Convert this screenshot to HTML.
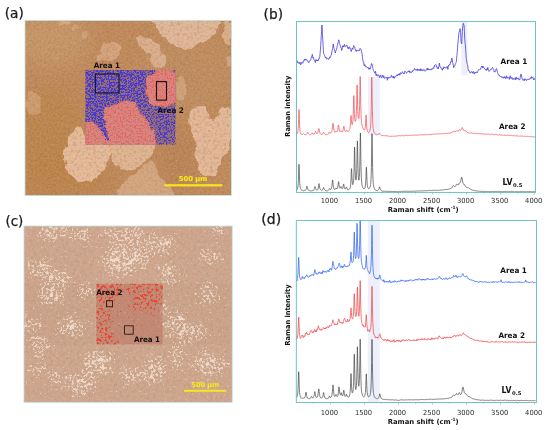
<!DOCTYPE html>
<html lang="en"><head><meta charset="utf-8"><title>Raman maps and spectra</title>
<style>html,body{margin:0;padding:0;background:#fff;}svg{display:block;font-family:'DejaVu Sans','Liberation Sans',sans-serif}.b{font-weight:bold}.lab{font-size:13.2px;fill:#1a1a1a;stroke:#1a1a1a;stroke-width:0.25px}.tk{font-size:7px;fill:#2a2a2a}.ax{font-size:6.9px;font-weight:bold;fill:#111}.ar{font-size:7.6px;font-weight:bold;fill:#111}.sb{font-size:6.8px;font-weight:bold;fill:#f5e61e;stroke:#f5e61e;stroke-width:0.15px}</style></head><body>
<svg width="550" height="430" viewBox="0 0 550 430">
<defs>
<clipPath id="ca"><rect x="25.0" y="20.5" width="206.5" height="175.1"/></clipPath>
<clipPath id="cc"><rect x="23.9" y="226.0" width="208.4" height="176.4"/></clipPath>
<clipPath id="coa"><rect x="85.3" y="70" width="90.2" height="74.7"/></clipPath>
<clipPath id="coc"><rect x="96.4" y="283.8" width="66.3" height="60.6"/></clipPath>
<filter id="rough" filterUnits="userSpaceOnUse" x="0" y="0" width="550" height="430" color-interpolation-filters="sRGB">
<feTurbulence type="fractalNoise" baseFrequency="0.12" numOctaves="3" seed="4" result="t"/>
<feDisplacementMap in="SourceGraphic" in2="t" scale="7" xChannelSelector="R" yChannelSelector="G" result="d"/>
<feGaussianBlur in="d" stdDeviation="0.7"/></filter>
<filter id="soft" filterUnits="userSpaceOnUse" x="0" y="0" width="550" height="430"><feGaussianBlur stdDeviation="9"/></filter>
<filter id="spBlue" filterUnits="userSpaceOnUse" x="0" y="0" width="550" height="430" color-interpolation-filters="sRGB">
<feGaussianBlur in="SourceAlpha" stdDeviation="0.6" result="m"/>
<feTurbulence type="fractalNoise" baseFrequency="0.62" numOctaves="3" seed="11" result="t"/>
<feColorMatrix in="t" type="matrix" values="0 0 0 0 1  0 0 0 0 1  0 0 0 0 1  1 0 0 0 0" result="n"/>
<feComposite in="n" in2="m" operator="arithmetic" k1="1" k2="0" k3="0" k4="0" result="p"/>
<feComponentTransfer in="p" result="q"><feFuncA type="linear" slope="8" intercept="-3.45"/></feComponentTransfer>
<feFlood flood-color="#4238d6" result="f"/><feComposite in="f" in2="q" operator="in" result="o"/><feGaussianBlur in="o" stdDeviation="0.42"/></filter>
<filter id="spRed" filterUnits="userSpaceOnUse" x="0" y="0" width="550" height="430" color-interpolation-filters="sRGB">
<feGaussianBlur in="SourceAlpha" stdDeviation="0.5" result="m"/>
<feTurbulence type="fractalNoise" baseFrequency="0.6" numOctaves="3" seed="23" result="t"/>
<feColorMatrix in="t" type="matrix" values="0 0 0 0 1  0 0 0 0 1  0 0 0 0 1  1 0 0 0 0" result="n"/>
<feComposite in="n" in2="m" operator="arithmetic" k1="1" k2="0" k3="0" k4="0" result="p"/>
<feComponentTransfer in="p" result="q"><feFuncA type="linear" slope="6" intercept="-2.95"/></feComponentTransfer>
<feFlood flood-color="#ee5058" result="f"/><feComposite in="f" in2="q" operator="in" result="o"/><feGaussianBlur in="o" stdDeviation="0.45"/></filter>
<filter id="spDarkB" filterUnits="userSpaceOnUse" x="0" y="0" width="550" height="430" color-interpolation-filters="sRGB">
<feGaussianBlur in="SourceAlpha" stdDeviation="1.0" result="m"/>
<feTurbulence type="fractalNoise" baseFrequency="0.3" numOctaves="3" seed="29" result="t"/>
<feColorMatrix in="t" type="matrix" values="0 0 0 0 1  0 0 0 0 1  0 0 0 0 1  1 0 0 0 0" result="n"/>
<feComposite in="n" in2="m" operator="arithmetic" k1="1" k2="0" k3="0" k4="0" result="p"/>
<feComponentTransfer in="p" result="q"><feFuncA type="linear" slope="7" intercept="-3.9"/></feComponentTransfer>
<feFlood flood-color="#b98458" result="f"/><feComposite in="f" in2="q" operator="in" result="o"/><feGaussianBlur in="o" stdDeviation="0.4"/></filter>
<filter id="spRedC" filterUnits="userSpaceOnUse" x="0" y="0" width="550" height="430" color-interpolation-filters="sRGB">
<feGaussianBlur in="SourceAlpha" stdDeviation="1.5" result="m"/><feTurbulence type="fractalNoise" baseFrequency="0.07" numOctaves="2" seed="131" result="wt"/><feDisplacementMap in="m" in2="wt" scale="8" xChannelSelector="R" yChannelSelector="G" result="mw"/>
<feTurbulence type="fractalNoise" baseFrequency="0.36" numOctaves="3" seed="31" result="t"/>
<feColorMatrix in="t" type="matrix" values="0 0 0 0 1  0 0 0 0 1  0 0 0 0 1  1 0 0 0 0" result="n"/>
<feComposite in="n" in2="mw" operator="arithmetic" k1="1" k2="0" k3="0" k4="0" result="p"/>
<feComponentTransfer in="p" result="q"><feFuncA type="linear" slope="9" intercept="-4.7"/></feComponentTransfer>
<feFlood flood-color="#ee4232" result="f"/><feComposite in="f" in2="q" operator="in" result="o"/><feGaussianBlur in="o" stdDeviation="0.5"/></filter>
<filter id="spLight" filterUnits="userSpaceOnUse" x="0" y="0" width="550" height="430" color-interpolation-filters="sRGB">
<feGaussianBlur in="SourceAlpha" stdDeviation="2.2" result="m"/><feTurbulence type="fractalNoise" baseFrequency="0.07" numOctaves="2" seed="105" result="wt"/><feDisplacementMap in="m" in2="wt" scale="16" xChannelSelector="R" yChannelSelector="G" result="mw"/>
<feTurbulence type="fractalNoise" baseFrequency="0.43" numOctaves="3" seed="5" result="t"/>
<feColorMatrix in="t" type="matrix" values="0 0 0 0 1  0 0 0 0 1  0 0 0 0 1  1 0 0 0 0" result="n"/>
<feComposite in="n" in2="mw" operator="arithmetic" k1="1" k2="0" k3="0" k4="0" result="p"/>
<feComponentTransfer in="p" result="q"><feFuncA type="linear" slope="8" intercept="-4.0"/></feComponentTransfer>
<feFlood flood-color="#f2ddce" result="f"/><feComposite in="f" in2="q" operator="in" result="o"/><feGaussianBlur in="o" stdDeviation="0.5"/></filter>
<filter id="spLight2" filterUnits="userSpaceOnUse" x="0" y="0" width="550" height="430" color-interpolation-filters="sRGB">
<feGaussianBlur in="SourceAlpha" stdDeviation="2.5" result="m"/><feTurbulence type="fractalNoise" baseFrequency="0.07" numOctaves="2" seed="108" result="wt"/><feDisplacementMap in="m" in2="wt" scale="16" xChannelSelector="R" yChannelSelector="G" result="mw"/>
<feTurbulence type="fractalNoise" baseFrequency="0.24" numOctaves="3" seed="8" result="t"/>
<feColorMatrix in="t" type="matrix" values="0 0 0 0 1  0 0 0 0 1  0 0 0 0 1  1 0 0 0 0" result="n"/>
<feComposite in="n" in2="mw" operator="arithmetic" k1="1" k2="0" k3="0" k4="0" result="p"/>
<feComponentTransfer in="p" result="q"><feFuncA type="linear" slope="8" intercept="-4.05"/></feComponentTransfer>
<feFlood flood-color="#f3e0d2" result="f"/><feComposite in="f" in2="q" operator="in" result="o"/><feGaussianBlur in="o" stdDeviation="0.7"/></filter>
<filter id="spDarkC" filterUnits="userSpaceOnUse" x="0" y="0" width="550" height="430" color-interpolation-filters="sRGB">
<feGaussianBlur in="SourceAlpha" stdDeviation="2.0" result="m"/>
<feTurbulence type="fractalNoise" baseFrequency="0.3" numOctaves="2" seed="41" result="t"/>
<feColorMatrix in="t" type="matrix" values="0 0 0 0 1  0 0 0 0 1  0 0 0 0 1  1 0 0 0 0" result="n"/>
<feComposite in="n" in2="m" operator="arithmetic" k1="1" k2="0" k3="0" k4="0" result="p"/>
<feComponentTransfer in="p" result="q"><feFuncA type="linear" slope="6" intercept="-3.1"/></feComponentTransfer>
<feFlood flood-color="#a87c64" result="f"/><feComposite in="f" in2="q" operator="in" result="o"/><feGaussianBlur in="o" stdDeviation="0.5"/></filter>
<filter id="spLightA" filterUnits="userSpaceOnUse" x="0" y="0" width="550" height="430" color-interpolation-filters="sRGB">
<feGaussianBlur in="SourceAlpha" stdDeviation="1.0" result="m"/>
<feTurbulence type="fractalNoise" baseFrequency="0.5" numOctaves="2" seed="9" result="t"/>
<feColorMatrix in="t" type="matrix" values="0 0 0 0 1  0 0 0 0 1  0 0 0 0 1  1 0 0 0 0" result="n"/>
<feComposite in="n" in2="m" operator="arithmetic" k1="1" k2="0" k3="0" k4="0" result="p"/>
<feComponentTransfer in="p" result="q"><feFuncA type="linear" slope="6" intercept="-2.7"/></feComponentTransfer>
<feFlood flood-color="#ecd0b4" result="f"/><feComposite in="f" in2="q" operator="in" result="o"/><feGaussianBlur in="o" stdDeviation="0.35"/></filter>
<filter id="spDarkA" filterUnits="userSpaceOnUse" x="0" y="0" width="550" height="430" color-interpolation-filters="sRGB">
<feGaussianBlur in="SourceAlpha" stdDeviation="2.0" result="m"/>
<feTurbulence type="fractalNoise" baseFrequency="0.35" numOctaves="2" seed="17" result="t"/>
<feColorMatrix in="t" type="matrix" values="0 0 0 0 1  0 0 0 0 1  0 0 0 0 1  1 0 0 0 0" result="n"/>
<feComposite in="n" in2="m" operator="arithmetic" k1="1" k2="0" k3="0" k4="0" result="p"/>
<feComponentTransfer in="p" result="q"><feFuncA type="linear" slope="6" intercept="-3.1"/></feComponentTransfer>
<feFlood flood-color="#b07c4c" result="f"/><feComposite in="f" in2="q" operator="in" result="o"/><feGaussianBlur in="o" stdDeviation="0.35"/></filter>
<filter id="grain" filterUnits="userSpaceOnUse" x="0" y="0" width="550" height="430" color-interpolation-filters="sRGB">
<feTurbulence type="fractalNoise" baseFrequency="0.45" numOctaves="2" seed="2" result="t"/>
<feColorMatrix in="t" type="matrix" values="0 0 0 0 0  0 0 0 0 0  0 0 0 0 0  0 2.2 0 0 -0.95" result="dk"/>
<feColorMatrix in="t" type="matrix" values="0 0 0 0 1  0 0 0 0 1  0 0 0 0 1  0 0 -2.2 0 0.95" result="lt"/>
<feMerge><feMergeNode in="dk"/><feMergeNode in="lt"/></feMerge></filter>
</defs>
<rect x="0" y="0" width="550" height="430" fill="#fff"/>
<g clip-path="url(#ca)">
<rect x="25.0" y="20.5" width="206.5" height="175.1" fill="#c28b5c"/>
<g filter="url(#soft)">
<ellipse cx="50" cy="135" rx="40" ry="45" fill="#b9843f" opacity="0.5"/><ellipse cx="60" cy="180" rx="50" ry="25" fill="#bd8248" opacity="0.6"/>
<ellipse cx="50" cy="40" rx="40" ry="26" fill="#c89a6c" opacity="0.8"/>
<ellipse cx="185" cy="75" rx="50" ry="40" fill="#c08e62" opacity="0.7"/>
<ellipse cx="178" cy="160" rx="18" ry="36" fill="#b98454" opacity="0.8"/>
</g>
<rect filter="url(#spDarkA)" x="25.0" y="20.5" width="206.5" height="175.1" opacity="0.16"/>
<rect filter="url(#spLightA)" x="25.0" y="20.5" width="206.5" height="175.1" opacity="0.10"/>
<g filter="url(#rough)">
<path d="M105.8,43.5 C108.0,42.1 111.6,41.6 114.0,42.5 C116.4,43.4 119.2,46.4 120.1,48.6 C120.9,50.8 120.5,53.9 119.1,55.8 C117.7,57.7 114.6,59.0 111.9,59.9 C109.2,60.8 105.1,61.2 102.7,60.9 C100.3,60.5 97.9,59.5 97.6,57.8 C97.3,56.1 99.3,53.1 100.7,50.7 C102.1,48.3 103.6,44.9 105.8,43.5Z" fill="#dcae8a" opacity="0.75"/>
<path d="M155.8,17.0 C146.6,19.1 157.2,26.1 158.6,29.5 C160.0,32.9 162.2,34.7 164.4,37.1 C166.6,39.5 169.2,41.9 172.0,43.8 C174.8,45.7 178.6,47.5 181.5,48.5 C184.4,49.5 187.0,50.1 189.2,49.5 C191.4,48.9 192.3,46.1 194.9,44.7 C197.5,43.3 201.6,42.2 204.5,40.9 C207.4,39.6 210.2,39.0 212.1,37.1 C214.0,35.2 215.6,32.9 215.9,29.5 C216.2,26.1 224.0,19.1 214.0,17.0 C204.0,14.9 165.0,14.9 155.8,17.0Z" fill="#e3ba9c" opacity="0.97"/>
<path d="M136.7,39.0 C137.3,37.9 139.1,36.9 141.5,37.1 C143.9,37.3 148.2,38.6 151.0,40.0 C153.8,41.4 156.5,43.5 158.6,45.7 C160.7,47.9 162.0,50.8 163.4,53.3 C164.8,55.8 167.0,58.9 167.2,61.0 C167.4,63.1 166.2,64.5 164.4,65.7 C162.7,66.9 158.8,68.3 156.7,68.0 C154.6,67.7 153.3,65.8 152.0,63.8 C150.7,61.8 150.5,58.6 149.1,56.2 C147.7,53.8 145.3,51.6 143.4,49.5 C141.5,47.4 138.7,45.5 137.6,43.8 C136.5,42.0 136.0,40.1 136.7,39.0Z" fill="#deb392" opacity="0.92"/>
<path d="M77.1,127.1 C78.4,127.1 81.1,127.9 82.4,129.7 C83.7,131.5 84.4,135.2 85.1,137.7 C85.8,140.2 82.7,143.5 86.5,144.7 C90.3,145.9 104.1,142.9 108.0,144.7 C111.9,146.5 110.1,151.8 109.8,155.4 C109.5,159.0 108.1,162.8 106.3,166.0 C104.5,169.2 101.8,172.5 99.2,174.8 C96.6,177.2 93.4,179.1 90.4,180.1 C87.5,181.1 84.5,181.6 81.5,181.0 C78.5,180.4 75.2,178.8 72.7,176.6 C70.2,174.4 68.0,170.9 66.5,167.7 C65.0,164.4 63.9,160.6 63.8,157.1 C63.6,153.6 64.4,150.0 65.6,146.5 C66.8,143.0 69.4,138.7 70.9,135.9 C72.4,133.1 73.4,131.2 74.4,129.7 C75.4,128.2 75.8,127.1 77.1,127.1Z" fill="#e6bc9a" opacity="1"/>
<path d="M112.5,144.5 C118.7,141.8 145.2,143.2 151.6,144.5 C158.0,145.8 151.6,149.8 151.2,152.0 C150.8,154.2 151.5,155.4 149.0,158.0 C146.5,160.6 140.3,165.2 136.3,167.3 C132.3,169.4 128.0,170.6 125.0,170.8 C122.0,171.0 120.4,170.3 118.6,168.6 C116.8,166.9 115.2,164.7 114.2,160.7 C113.2,156.7 106.3,147.2 112.5,144.5Z" fill="#e3b896" opacity="0.95"/>
<path d="M190.2,112.0 C189.2,114.5 189.1,119.0 189.4,122.5 C189.7,126.0 190.8,129.4 192.0,132.9 C193.2,136.4 195.9,139.6 196.3,143.4 C196.7,147.2 194.4,151.8 194.6,155.6 C194.8,159.4 195.6,162.9 197.2,166.1 C198.8,169.3 201.1,173.1 204.2,174.8 C207.2,176.6 213.2,178.1 215.5,176.6 C217.8,175.1 217.0,169.3 218.2,166.1 C219.4,162.9 220.9,160.0 222.5,157.4 C224.1,154.8 226.4,153.3 227.8,150.4 C229.2,147.5 230.3,144.6 231.0,139.9 C231.7,135.2 232.0,127.7 232.0,122.5 C232.0,117.3 233.0,110.5 231.0,108.5 C229.0,106.5 222.6,108.2 219.9,110.2 C217.2,112.2 216.7,120.1 214.7,120.7 C212.7,121.3 209.7,116.0 207.7,113.7 C205.7,111.4 204.5,107.7 202.5,106.7 C200.5,105.7 197.6,106.7 195.5,107.6 C193.4,108.5 191.2,109.5 190.2,112.0Z" fill="#e5b999" opacity="1"/>
<ellipse cx="227.5" cy="33" rx="4.5" ry="12" fill="#e2b694" opacity="0.8"/>
<ellipse cx="228.5" cy="61" rx="3" ry="7" fill="#e2b694" opacity="0.6"/>
<ellipse cx="181.5" cy="89" rx="5.5" ry="12" fill="#e2b694" opacity="0.5"/>
<ellipse cx="33" cy="103" rx="8" ry="11" fill="#e2b694" opacity="0.45"/>
<path d="M126.0,181.0 C130.9,177.1 145.1,163.4 150.6,162.5 C156.1,161.6 155.1,169.6 158.8,175.5 C162.5,181.4 179.5,194.2 173.0,198.0 C166.5,201.8 128.7,200.0 120.0,198.0 C111.3,196.0 120.0,188.8 121.0,186.0 C122.0,183.2 121.1,184.9 126.0,181.0Z" fill="#e2b694" opacity="0.62"/>
<ellipse cx="63" cy="22.5" rx="6" ry="2.8" fill="#e2b694" opacity="0.55"/>
<ellipse cx="75" cy="27.5" rx="3" ry="3" fill="#e2b694" opacity="0.45"/>
<ellipse cx="85" cy="35" rx="4.5" ry="3" fill="#e2b694" opacity="0.45"/>
<ellipse cx="56" cy="58" rx="3" ry="2" fill="#e2b694" opacity="0.3"/>
</g>
<g filter="url(#spDarkB)" opacity="0.28">
<path d="M105.8,43.5 C108.0,42.1 111.6,41.6 114.0,42.5 C116.4,43.4 119.2,46.4 120.1,48.6 C120.9,50.8 120.5,53.9 119.1,55.8 C117.7,57.7 114.6,59.0 111.9,59.9 C109.2,60.8 105.1,61.2 102.7,60.9 C100.3,60.5 97.9,59.5 97.6,57.8 C97.3,56.1 99.3,53.1 100.7,50.7 C102.1,48.3 103.6,44.9 105.8,43.5Z"/>
<path d="M155.8,17.0 C146.6,19.1 157.2,26.1 158.6,29.5 C160.0,32.9 162.2,34.7 164.4,37.1 C166.6,39.5 169.2,41.9 172.0,43.8 C174.8,45.7 178.6,47.5 181.5,48.5 C184.4,49.5 187.0,50.1 189.2,49.5 C191.4,48.9 192.3,46.1 194.9,44.7 C197.5,43.3 201.6,42.2 204.5,40.9 C207.4,39.6 210.2,39.0 212.1,37.1 C214.0,35.2 215.6,32.9 215.9,29.5 C216.2,26.1 224.0,19.1 214.0,17.0 C204.0,14.9 165.0,14.9 155.8,17.0Z"/>
<path d="M136.7,39.0 C137.3,37.9 139.1,36.9 141.5,37.1 C143.9,37.3 148.2,38.6 151.0,40.0 C153.8,41.4 156.5,43.5 158.6,45.7 C160.7,47.9 162.0,50.8 163.4,53.3 C164.8,55.8 167.0,58.9 167.2,61.0 C167.4,63.1 166.2,64.5 164.4,65.7 C162.7,66.9 158.8,68.3 156.7,68.0 C154.6,67.7 153.3,65.8 152.0,63.8 C150.7,61.8 150.5,58.6 149.1,56.2 C147.7,53.8 145.3,51.6 143.4,49.5 C141.5,47.4 138.7,45.5 137.6,43.8 C136.5,42.0 136.0,40.1 136.7,39.0Z"/>
<path d="M77.1,127.1 C78.4,127.1 81.1,127.9 82.4,129.7 C83.7,131.5 84.4,135.2 85.1,137.7 C85.8,140.2 82.7,143.5 86.5,144.7 C90.3,145.9 104.1,142.9 108.0,144.7 C111.9,146.5 110.1,151.8 109.8,155.4 C109.5,159.0 108.1,162.8 106.3,166.0 C104.5,169.2 101.8,172.5 99.2,174.8 C96.6,177.2 93.4,179.1 90.4,180.1 C87.5,181.1 84.5,181.6 81.5,181.0 C78.5,180.4 75.2,178.8 72.7,176.6 C70.2,174.4 68.0,170.9 66.5,167.7 C65.0,164.4 63.9,160.6 63.8,157.1 C63.6,153.6 64.4,150.0 65.6,146.5 C66.8,143.0 69.4,138.7 70.9,135.9 C72.4,133.1 73.4,131.2 74.4,129.7 C75.4,128.2 75.8,127.1 77.1,127.1Z"/>
<path d="M112.5,144.5 C118.7,141.8 145.2,143.2 151.6,144.5 C158.0,145.8 151.6,149.8 151.2,152.0 C150.8,154.2 151.5,155.4 149.0,158.0 C146.5,160.6 140.3,165.2 136.3,167.3 C132.3,169.4 128.0,170.6 125.0,170.8 C122.0,171.0 120.4,170.3 118.6,168.6 C116.8,166.9 115.2,164.7 114.2,160.7 C113.2,156.7 106.3,147.2 112.5,144.5Z"/>
<path d="M190.2,112.0 C189.2,114.5 189.1,119.0 189.4,122.5 C189.7,126.0 190.8,129.4 192.0,132.9 C193.2,136.4 195.9,139.6 196.3,143.4 C196.7,147.2 194.4,151.8 194.6,155.6 C194.8,159.4 195.6,162.9 197.2,166.1 C198.8,169.3 201.1,173.1 204.2,174.8 C207.2,176.6 213.2,178.1 215.5,176.6 C217.8,175.1 217.0,169.3 218.2,166.1 C219.4,162.9 220.9,160.0 222.5,157.4 C224.1,154.8 226.4,153.3 227.8,150.4 C229.2,147.5 230.3,144.6 231.0,139.9 C231.7,135.2 232.0,127.7 232.0,122.5 C232.0,117.3 233.0,110.5 231.0,108.5 C229.0,106.5 222.6,108.2 219.9,110.2 C217.2,112.2 216.7,120.1 214.7,120.7 C212.7,121.3 209.7,116.0 207.7,113.7 C205.7,111.4 204.5,107.7 202.5,106.7 C200.5,105.7 197.6,106.7 195.5,107.6 C193.4,108.5 191.2,109.5 190.2,112.0Z"/>
</g>
<rect filter="url(#grain)" x="25.0" y="20.5" width="206.5" height="175.1" opacity="0.09"/>
<g clip-path="url(#coa)">
<rect x="85.3" y="70" width="90.2" height="74.7" fill="#8c6478" opacity="0.7"/>
<g filter="url(#spBlue)"><rect x="82" y="67" width="97" height="81" fill-opacity="0.9"/><rect x="82" y="67" width="64" height="40"/><rect x="82" y="100" width="24" height="26"/><ellipse cx="163" cy="128" rx="8" ry="10" fill-opacity="0.6"/></g>
<g filter="url(#rough)">
<circle cx="164" cy="88" r="19" fill="#d8877e"/>
<path d="M105.7,107.5 C107.5,105.2 111.3,103.5 115.6,102.5 C119.9,101.5 127.5,100.3 131.4,101.6 C135.4,102.9 136.7,107.0 139.3,110.5 C141.9,114.0 145.1,118.7 147.2,122.3 C149.3,125.9 151.0,127.9 152.1,132.2 C153.2,136.5 160.7,145.4 153.6,148.0 C146.5,150.6 117.2,150.6 109.6,148.0 C101.9,145.4 108.5,137.5 107.7,132.2 C106.9,126.9 105.0,120.5 104.7,116.4 C104.4,112.3 103.9,109.8 105.7,107.5Z" fill="#d38980"/>
<path d="M82.0,124.6 C84.0,120.3 89.8,120.0 93.8,122.3 C97.8,124.5 103.2,133.8 105.7,138.1 C108.2,142.4 112.5,146.3 108.5,148.0 C104.5,149.7 86.4,151.9 82.0,148.0 C77.6,144.1 80.0,128.9 82.0,124.6Z" fill="#d28a7e"/>
</g>
<g filter="url(#spRed)" opacity="0.7">
<circle cx="164" cy="88" r="19.5"/>
<path d="M104.7,106.5 C106.7,104.0 111.0,102.5 115.6,101.5 C120.2,100.5 128.3,99.3 132.4,100.6 C136.5,101.9 137.7,106.0 140.3,109.5 C142.9,113.0 146.1,117.7 148.2,121.3 C150.3,124.9 152.0,126.7 153.1,131.2 C154.2,135.6 162.0,145.2 154.6,148.0 C147.2,150.8 116.6,150.6 108.6,148.0 C100.6,145.4 107.5,137.5 106.7,132.2 C105.9,126.9 104.0,120.7 103.7,116.4 C103.4,112.1 102.7,109.0 104.7,106.5Z"/>
<path d="M82.0,123.6 C84.0,119.1 90.2,119.0 94.3,121.3 C98.4,123.5 104.2,132.7 106.7,137.1 C109.2,141.5 113.6,146.2 109.5,148.0 C105.4,149.8 86.6,152.1 82.0,148.0 C77.4,143.9 80.0,128.0 82.0,123.6Z"/>
</g>
<g filter="url(#spBlue)"><path d="M91,110 L100,108 L110,141 L106,142 Z"/></g>
</g>
<rect x="95.4" y="74" width="23.6" height="18.9" fill="none" stroke="#15152a" stroke-width="1.1"/>
<rect x="156.5" y="81.6" width="10" height="18.5" fill="none" stroke="#1a1010" stroke-width="1.1"/>
<text class="ar" x="93.7" y="67.7" textLength="26.3" lengthAdjust="spacingAndGlyphs">Area 1</text>
<text class="ar" x="157.4" y="112.5" textLength="26.5" lengthAdjust="spacingAndGlyphs">Area 2</text>
<rect x="164.4" y="184.2" width="57.9" height="2.2" fill="#f5e61e"/>
<text class="sb" x="178.8" y="181.2" textLength="28.6" lengthAdjust="spacingAndGlyphs">500 µm</text>
</g>
<rect x="25.0" y="20.5" width="206.5" height="175.1" fill="none" stroke="#bfe4e2" stroke-width="0.8"/>
<g clip-path="url(#cc)">
<rect x="23.9" y="226.0" width="208.4" height="176.4" fill="#cfa88f"/>
<rect x="94.5" y="226" width="69" height="57.5" fill="#d3ad95" opacity="0.35"/>
<rect x="163.5" y="283.5" width="70" height="61" fill="#c69e85" opacity="0.3"/>
<rect x="24" y="283.5" width="70.5" height="61" fill="#c8a087" opacity="0.3"/>
<rect x="94.5" y="344.5" width="69" height="60" fill="#d1aa92" opacity="0.3"/>
<rect filter="url(#spDarkC)" x="23.9" y="226.0" width="208.4" height="176.4" opacity="0.12"/>
<g filter="url(#spLight)" opacity="0.85">
<rect x="18.9" y="221.0" width="218.4" height="186.4" fill-opacity="0.71"/>
<ellipse cx="57.7" cy="232.2" rx="20.9" ry="8.6" fill-opacity="0.9"/>
<ellipse cx="84.3" cy="234.2" rx="10.7" ry="8.6" fill-opacity="0.9"/>
<ellipse cx="119.9" cy="235.2" rx="17.6" ry="9.6" fill-opacity="0.9"/>
<ellipse cx="119.9" cy="260.8" rx="17.6" ry="18.8" fill-opacity="0.9"/>
<ellipse cx="41.4" cy="270.0" rx="12.7" ry="11.7" fill-opacity="0.9"/>
<ellipse cx="56.7" cy="277.1" rx="11.7" ry="10.7" fill-opacity="0.9"/>
<ellipse cx="52.6" cy="294.5" rx="15.8" ry="11.7" fill-opacity="0.9"/>
<ellipse cx="86.4" cy="291.4" rx="8.6" ry="8.6" fill-opacity="0.9"/>
<ellipse cx="132.2" cy="235.2" rx="11.7" ry="9.6" fill-opacity="0.9"/>
<ellipse cx="138.3" cy="255.7" rx="13.7" ry="13.7" fill-opacity="0.9"/>
<ellipse cx="162.8" cy="244.4" rx="15.8" ry="10.7" fill-opacity="0.9"/>
<ellipse cx="169.0" cy="274.1" rx="11.7" ry="11.7" fill-opacity="0.9"/>
<ellipse cx="209.9" cy="255.7" rx="13.7" ry="9.6" fill-opacity="0.9"/>
<ellipse cx="217.0" cy="233.2" rx="10.7" ry="7.6" fill-opacity="0.9"/>
<ellipse cx="207.8" cy="293.5" rx="9.6" ry="12.7" fill-opacity="0.9"/>
<ellipse cx="165.4" cy="307.8" rx="6.1" ry="6.6" fill-opacity="0.9"/>
<ellipse cx="31.3" cy="323.5" rx="8.7" ry="9.8" fill-opacity="0.9"/>
<ellipse cx="71.1" cy="325.5" rx="15.0" ry="11.9" fill-opacity="0.9"/>
<ellipse cx="38.6" cy="345.4" rx="9.8" ry="12.9" fill-opacity="0.9"/>
<ellipse cx="98.2" cy="363.2" rx="17.1" ry="14.0" fill-opacity="0.9"/>
<ellipse cx="55.4" cy="378.9" rx="9.8" ry="8.7" fill-opacity="0.9"/>
<ellipse cx="81.5" cy="384.1" rx="15.0" ry="14.0" fill-opacity="0.9"/>
<ellipse cx="36.5" cy="370.5" rx="11.9" ry="8.7" fill-opacity="0.9"/>
<ellipse cx="129.2" cy="375.7" rx="8.3" ry="9.8" fill-opacity="0.9"/>
<ellipse cx="180.5" cy="328.7" rx="18.1" ry="15.0" fill-opacity="0.9"/>
<ellipse cx="202.4" cy="330.8" rx="8.7" ry="8.7" fill-opacity="0.9"/>
<ellipse cx="154.3" cy="370.5" rx="12.9" ry="15.0" fill-opacity="0.9"/>
<ellipse cx="133.4" cy="375.7" rx="10.8" ry="9.8" fill-opacity="0.9"/>
<ellipse cx="209.7" cy="364.2" rx="18.1" ry="12.9" fill-opacity="0.9"/>
<ellipse cx="177.3" cy="358.0" rx="8.7" ry="12.9" fill-opacity="0.9"/>
</g>
<g filter="url(#spLight2)" opacity="0.9">
<rect x="18.9" y="221.0" width="218.4" height="186.4" fill-opacity="0.5"/>
<ellipse cx="57.7" cy="232.2" rx="15.9" ry="3.6" fill-opacity="0.95"/>
<ellipse cx="84.3" cy="234.2" rx="5.7" ry="3.6" fill-opacity="0.95"/>
<ellipse cx="119.9" cy="235.2" rx="12.6" ry="4.6" fill-opacity="0.95"/>
<ellipse cx="119.9" cy="260.8" rx="12.6" ry="13.8" fill-opacity="0.95"/>
<ellipse cx="41.4" cy="270.0" rx="7.7" ry="6.7" fill-opacity="0.95"/>
<ellipse cx="56.7" cy="277.1" rx="6.7" ry="5.7" fill-opacity="0.95"/>
<ellipse cx="52.6" cy="294.5" rx="10.8" ry="6.7" fill-opacity="0.95"/>
<ellipse cx="86.4" cy="291.4" rx="3.6" ry="3.6" fill-opacity="0.95"/>
<ellipse cx="132.2" cy="235.2" rx="6.7" ry="4.6" fill-opacity="0.95"/>
<ellipse cx="138.3" cy="255.7" rx="8.7" ry="8.7" fill-opacity="0.95"/>
<ellipse cx="162.8" cy="244.4" rx="10.8" ry="5.7" fill-opacity="0.95"/>
<ellipse cx="169.0" cy="274.1" rx="6.7" ry="6.7" fill-opacity="0.95"/>
<ellipse cx="209.9" cy="255.7" rx="8.7" ry="4.6" fill-opacity="0.95"/>
<ellipse cx="217.0" cy="233.2" rx="5.7" ry="2.6" fill-opacity="0.95"/>
<ellipse cx="207.8" cy="293.5" rx="4.6" ry="7.7" fill-opacity="0.95"/>
<ellipse cx="165.4" cy="307.8" rx="2.0" ry="2.0" fill-opacity="0.95"/>
<ellipse cx="31.3" cy="323.5" rx="3.7" ry="4.8" fill-opacity="0.95"/>
<ellipse cx="71.1" cy="325.5" rx="10.0" ry="6.9" fill-opacity="0.95"/>
<ellipse cx="38.6" cy="345.4" rx="4.8" ry="7.9" fill-opacity="0.95"/>
<ellipse cx="98.2" cy="363.2" rx="12.1" ry="9.0" fill-opacity="0.95"/>
<ellipse cx="55.4" cy="378.9" rx="4.8" ry="3.7" fill-opacity="0.95"/>
<ellipse cx="81.5" cy="384.1" rx="10.0" ry="9.0" fill-opacity="0.95"/>
<ellipse cx="36.5" cy="370.5" rx="6.9" ry="3.7" fill-opacity="0.95"/>
<ellipse cx="129.2" cy="375.7" rx="3.3" ry="4.8" fill-opacity="0.95"/>
<ellipse cx="180.5" cy="328.7" rx="13.1" ry="10.0" fill-opacity="0.95"/>
<ellipse cx="202.4" cy="330.8" rx="3.7" ry="3.7" fill-opacity="0.95"/>
<ellipse cx="154.3" cy="370.5" rx="7.9" ry="10.0" fill-opacity="0.95"/>
<ellipse cx="133.4" cy="375.7" rx="5.8" ry="4.8" fill-opacity="0.95"/>
<ellipse cx="209.7" cy="364.2" rx="13.1" ry="7.9" fill-opacity="0.95"/>
<ellipse cx="177.3" cy="358.0" rx="3.7" ry="7.9" fill-opacity="0.95"/>
</g>
<rect filter="url(#grain)" x="23.9" y="226.0" width="208.4" height="176.4" opacity="0.05"/>
<g clip-path="url(#coc)">
<rect x="96" y="283.8" width="67.6" height="60.8" fill="#b05848" opacity="0.36"/>
<g filter="url(#spRedC)">
<rect x="92" y="280" width="19" height="68" fill-opacity="0.93"/>
<rect x="92" y="280" width="24" height="20" fill-opacity="1"/>
<rect x="92" y="280" width="75" height="12" fill-opacity="0.9"/>
<ellipse cx="147" cy="298" rx="17" ry="14" fill-opacity="0.88"/>
<ellipse cx="108" cy="340" rx="12" ry="7" fill-opacity="0.95"/>
<rect x="92" y="280" width="75" height="68" fill-opacity="0.74"/>
</g>
</g>
<rect x="106.4" y="300.7" width="6" height="6.1" fill="none" stroke="#111" stroke-width="0.8"/>
<rect x="124.6" y="325.8" width="8.6" height="8.4" fill="none" stroke="#111" stroke-width="0.8"/>
<text class="ar" x="96.2" y="295.3" textLength="26.4" lengthAdjust="spacingAndGlyphs" style="font-size:7.6px">Area 2</text>
<text class="ar" x="133.9" y="342" textLength="26.2" lengthAdjust="spacingAndGlyphs" style="font-size:7.6px">Area 1</text>
<rect x="184.1" y="389.8" width="42" height="2.0" fill="#f5e61e"/>
<text class="sb" x="191.3" y="387.2" textLength="27.8" lengthAdjust="spacingAndGlyphs">500 µm</text>
</g>
<rect x="23.9" y="226.0" width="208.4" height="176.4" fill="none" stroke="#bfe4e2" stroke-width="0.8"/>
<rect x="461.5" y="21.0" width="5.9" height="54.3" fill="#edf0fa"/>
<rect x="368.0" y="77.0" width="11.8" height="58.2" fill="#edf0fa"/>
<path d="M296.40,61.50 296.70,61.43 297.00,60.64 297.30,61.00 297.60,62.72 297.90,62.61 298.20,62.21 298.50,62.53 298.80,63.42 299.10,63.97 299.40,63.84 299.70,63.11 300.00,62.08 300.30,63.20 300.60,64.81 300.90,64.51 301.20,64.16 301.50,63.10 301.80,62.22 302.10,62.70 302.40,62.59 302.70,63.30 303.00,62.59 303.30,60.84 303.60,60.94 303.90,60.40 304.20,60.63 304.50,59.43 304.80,59.10 305.10,60.27 305.40,59.29 305.70,59.08 306.00,59.75 306.30,59.74 306.60,59.50 306.90,60.32 307.20,60.89 307.50,60.94 307.80,60.71 308.10,61.85 308.40,62.45 308.70,62.30 309.00,62.72 309.30,61.59 309.60,61.01 309.90,60.97 310.20,60.19 310.50,60.22 310.80,59.75 311.10,58.65 311.40,56.86 311.70,56.24 312.00,55.71 312.30,54.32 312.60,55.86 312.90,58.15 313.20,58.04 313.50,57.32 313.80,58.56 314.10,59.70 314.40,60.32 314.70,60.42 315.00,61.02 315.30,62.57 315.60,60.99 315.90,59.56 316.20,59.88 316.50,60.64 316.80,60.01 317.10,59.80 317.40,60.89 317.70,60.41 318.00,61.04 318.30,60.47 318.60,58.73 318.90,58.52 319.20,58.84 319.50,58.21 319.80,56.45 320.10,53.32 320.40,49.92 320.70,45.68 321.00,40.76 321.30,35.60 321.60,31.60 321.90,25.05 322.20,29.00 322.50,34.87 322.80,39.89 323.10,45.36 323.40,50.45 323.70,53.42 324.00,54.09 324.30,54.59 324.60,55.60 324.90,56.50 325.20,56.57 325.50,57.70 325.80,57.66 326.10,57.19 326.40,58.66 326.70,59.22 327.00,59.04 327.30,58.48 327.60,58.40 327.90,58.37 328.20,58.63 328.50,59.39 328.80,58.59 329.10,58.74 329.40,58.39 329.70,56.87 330.00,57.28 330.30,57.44 330.60,56.61 330.90,55.86 331.20,55.19 331.50,53.97 331.80,51.94 332.10,50.17 332.40,49.88 332.70,48.10 333.00,45.18 333.30,44.03 333.60,46.18 333.90,48.24 334.20,48.63 334.50,49.63 334.80,50.99 335.10,51.95 335.40,53.01 335.70,51.35 336.00,50.35 336.30,50.08 336.60,49.35 336.90,48.06 337.20,46.31 337.50,45.11 337.80,43.63 338.10,42.58 338.40,41.50 338.70,39.92 339.00,40.17 339.30,42.15 339.60,43.66 339.90,44.82 340.20,45.29 340.50,46.34 340.80,47.85 341.10,48.04 341.40,48.60 341.70,50.39 342.00,50.20 342.30,46.88 342.60,46.05 342.90,46.98 343.20,45.69 343.50,46.32 343.80,47.10 344.10,45.68 344.40,44.34 344.70,44.75 345.00,45.95 345.30,46.54 345.60,46.01 345.90,45.64 346.20,45.90 346.50,45.76 346.80,45.19 347.10,45.90 347.40,47.22 347.70,47.93 348.00,48.49 348.30,47.42 348.60,47.68 348.90,48.82 349.20,47.44 349.50,46.85 349.80,47.58 350.10,47.82 350.40,49.33 350.70,50.34 351.00,51.35 351.30,51.55 351.60,49.87 351.90,49.31 352.20,47.97 352.50,48.35 352.80,49.32 353.10,47.86 353.40,47.10 353.70,45.66 354.00,45.78 354.30,46.58 354.60,47.12 354.90,48.52 355.20,48.83 355.50,50.29 355.80,51.08 356.10,51.33 356.40,51.56 356.70,50.00 357.00,50.21 357.30,50.65 357.60,50.14 357.90,50.28 358.20,50.32 358.50,50.86 358.80,50.72 359.10,50.02 359.40,50.47 359.70,49.23 360.00,48.43 360.30,48.96 360.60,49.00 360.90,49.15 361.20,49.99 361.50,51.38 361.80,53.00 362.10,54.02 362.40,56.50 362.70,59.58 363.00,61.00 363.30,61.79 363.60,61.81 363.90,64.04 364.20,66.06 364.50,65.77 364.80,64.56 365.10,65.31 365.40,66.23 365.70,66.80 366.00,66.71 366.30,66.37 366.60,66.92 366.90,67.40 367.20,67.41 367.50,67.75 367.80,68.14 368.10,67.39 368.40,68.29 368.70,69.28 369.00,68.10 369.30,68.03 369.60,68.85 369.90,68.54 370.20,69.22 370.50,68.30 370.80,66.47 371.10,65.20 371.40,63.72 371.70,63.70 372.00,63.80 372.30,65.15 372.60,66.73 372.90,68.40 373.20,69.82 373.50,70.54 373.80,71.48 374.10,71.80 374.40,72.06 374.70,73.08 375.00,72.93 375.30,71.14 375.60,71.38 375.90,74.98 376.20,75.58 376.50,74.02 376.80,74.43 377.10,75.71 377.40,76.13 377.70,75.50 378.00,74.71 378.30,74.79 378.60,74.97 378.90,75.47 379.20,77.15 379.50,77.69 379.80,76.62 380.10,75.59 380.40,75.26 380.70,76.22 381.00,77.48 381.30,77.69 381.60,77.57 381.90,76.44 382.20,75.16 382.50,76.50 382.80,77.14 383.10,77.66 383.40,77.13 383.70,75.61 384.00,76.48 384.30,77.47 384.60,78.53 384.90,78.10 385.20,78.10 385.50,77.70 385.80,77.11 386.10,77.20 386.40,77.20 386.70,77.57 387.00,78.05 387.30,80.28 387.60,79.20 387.90,76.99 388.20,78.06 388.50,78.10 388.80,78.41 389.10,77.68 389.40,77.24 389.70,77.31 390.00,77.26 390.30,77.74 390.60,77.34 390.90,76.84 391.20,75.57 391.50,75.20 391.80,76.67 392.10,77.19 392.40,77.25 392.70,76.68 393.00,76.66 393.30,78.03 393.60,76.43 393.90,76.08 394.20,78.37 394.50,77.61 394.80,76.92 395.10,77.22 395.40,76.99 395.70,76.60 396.00,75.51 396.30,75.34 396.60,75.45 396.90,75.24 397.20,74.83 397.50,75.69 397.80,75.74 398.10,74.30 398.40,73.98 398.70,74.84 399.00,73.98 399.30,73.69 399.60,75.08 399.90,75.23 400.20,74.27 400.50,72.76 400.80,72.81 401.10,73.07 401.40,73.69 401.70,73.61 402.00,72.58 402.30,71.75 402.60,71.85 402.90,72.63 403.20,73.39 403.50,73.38 403.80,73.45 404.10,74.06 404.40,72.78 404.70,71.35 405.00,71.36 405.30,71.82 405.60,71.65 405.90,72.12 406.20,72.91 406.50,73.14 406.80,72.85 407.10,71.84 407.40,71.85 407.70,71.52 408.00,71.30 408.30,71.33 408.60,71.87 408.90,70.74 409.20,70.52 409.50,72.52 409.80,71.97 410.10,71.62 410.40,71.72 410.70,72.23 411.00,73.03 411.30,72.25 411.60,72.20 411.90,71.78 412.20,70.98 412.50,71.48 412.80,70.39 413.10,70.20 413.40,70.41 413.70,70.55 414.00,70.30 414.30,68.69 414.60,68.33 414.90,69.23 415.20,70.03 415.50,70.19 415.80,69.59 416.10,69.87 416.40,70.02 416.70,69.46 417.00,70.36 417.30,70.42 417.60,68.80 417.90,69.32 418.20,70.35 418.50,69.63 418.80,70.28 419.10,70.05 419.40,69.59 419.70,69.94 420.00,70.97 420.30,69.98 420.60,68.72 420.90,70.07 421.20,70.71 421.50,70.39 421.80,69.51 422.10,70.64 422.40,70.80 422.70,70.19 423.00,70.44 423.30,70.53 423.60,69.82 423.90,69.32 424.20,70.10 424.50,70.51 424.80,71.15 425.10,71.26 425.40,70.85 425.70,70.40 426.00,70.68 426.30,70.24 426.60,69.35 426.90,68.73 427.20,68.15 427.50,69.52 427.80,70.12 428.10,68.59 428.40,68.62 428.70,69.57 429.00,68.97 429.30,69.32 429.60,69.79 429.90,69.50 430.20,70.09 430.50,69.62 430.80,69.59 431.10,69.68 431.40,68.81 431.70,69.59 432.00,69.85 432.30,68.74 432.60,68.33 432.90,68.55 433.20,67.65 433.50,67.78 433.80,68.26 434.10,66.67 434.40,65.67 434.70,66.45 435.00,65.14 435.30,64.75 435.60,64.48 435.90,64.49 436.20,64.76 436.50,65.36 436.80,67.09 437.10,67.97 437.40,68.40 437.70,67.67 438.00,68.54 438.30,68.91 438.60,67.00 438.90,66.12 439.20,64.25 439.50,63.08 439.80,66.17 440.10,66.90 440.40,66.99 440.70,67.08 441.00,67.75 441.30,68.78 441.60,68.62 441.90,69.39 442.20,70.26 442.50,70.12 442.80,68.11 443.10,67.81 443.40,68.88 443.70,67.93 444.00,66.78 444.30,67.13 444.60,67.81 444.90,67.93 445.20,67.61 445.50,67.66 445.80,68.18 446.10,67.85 446.40,67.83 446.70,67.58 447.00,66.39 447.30,66.65 447.60,67.98 447.90,69.36 448.20,67.26 448.50,65.04 448.80,65.39 449.10,65.37 449.40,64.75 449.70,64.04 450.00,64.49 450.30,63.27 450.60,61.76 450.90,62.22 451.20,61.87 451.50,58.70 451.80,58.07 452.10,58.49 452.40,59.72 452.70,62.12 453.00,63.59 453.30,65.17 453.60,67.52 453.90,67.74 454.20,66.20 454.50,65.85 454.80,66.11 455.10,64.32 455.40,63.81 455.70,63.58 456.00,62.57 456.30,61.74 456.60,58.93 456.90,55.87 457.20,52.85 457.50,48.87 457.80,44.38 458.10,41.00 458.40,38.12 458.70,34.34 459.00,32.28 459.30,31.98 459.60,30.48 459.90,28.70 460.20,28.80 460.50,32.14 460.80,37.10 461.10,42.59 461.40,43.40 461.70,43.89 462.00,38.64 462.30,31.67 462.60,28.01 462.90,25.78 463.20,23.50 463.50,23.50 463.80,24.81 464.10,25.24 464.40,30.93 464.70,38.79 465.00,42.27 465.30,44.40 465.60,48.10 465.90,52.69 466.20,57.51 466.50,59.43 466.80,61.91 467.10,63.55 467.40,64.46 467.70,65.94 468.00,68.44 468.30,70.41 468.60,70.99 468.90,70.52 469.20,71.12 469.50,72.32 469.80,72.52 470.10,73.24 470.40,73.00 470.70,72.51 471.00,71.76 471.30,71.49 471.60,72.19 471.90,71.79 472.20,71.92 472.50,73.26 472.80,72.97 473.10,71.73 473.40,71.57 473.70,72.28 474.00,73.82 474.30,73.86 474.60,72.94 474.90,72.18 475.20,72.25 475.50,73.18 475.80,72.60 476.10,72.08 476.40,71.78 476.70,72.07 477.00,72.99 477.30,72.52 477.60,71.78 477.90,71.33 478.20,70.40 478.50,69.67 478.80,69.47 479.10,69.65 479.40,69.54 479.70,69.72 480.00,69.82 480.30,69.75 480.60,69.42 480.90,68.08 481.20,67.34 481.50,66.19 481.80,66.74 482.10,67.18 482.40,66.20 482.70,67.80 483.00,67.63 483.30,66.45 483.60,67.25 483.90,67.50 484.20,67.86 484.50,68.60 484.80,69.18 485.10,69.24 485.40,69.54 485.70,69.62 486.00,69.67 486.30,70.63 486.60,69.39 486.90,68.68 487.20,69.87 487.50,69.01 487.80,67.37 488.10,68.84 488.40,70.43 488.70,70.91 489.00,71.49 489.30,71.11 489.60,70.70 489.90,70.56 490.20,70.04 490.50,69.48 490.80,70.07 491.10,69.84 491.40,69.31 491.70,69.07 492.00,68.20 492.30,67.26 492.60,67.55 492.90,68.05 493.20,68.62 493.50,69.03 493.80,69.83 494.10,71.81 494.40,72.16 494.70,71.41 495.00,71.11 495.30,71.53 495.60,70.75 495.90,69.37 496.20,69.25 496.50,68.64 496.80,69.09 497.10,70.83 497.40,72.34 497.70,72.79 498.00,74.25 498.30,74.65 498.60,74.88 498.90,74.90 499.20,74.75 499.50,76.04 499.80,76.32 500.10,76.10 500.40,76.28 500.70,76.68 501.00,76.66 501.30,76.62 501.60,76.63 501.90,77.67 502.20,77.49 502.50,76.95 502.80,76.98 503.10,76.91 503.40,78.31 503.70,77.47 504.00,77.82 504.30,77.98 504.60,76.60 504.90,77.42 505.20,77.34 505.50,77.80 505.80,78.79 506.10,76.77 506.40,75.76 506.70,76.98 507.00,78.11 507.30,77.89 507.60,77.21 507.90,78.14 508.20,77.95 508.50,77.74 508.80,77.50 509.10,77.87 509.40,79.42 509.70,78.17 510.00,75.99 510.30,75.78 510.60,77.76 510.90,78.49 511.20,78.64 511.50,78.30 511.80,77.27 512.10,78.05 512.40,79.29 512.70,79.33 513.00,78.24 513.30,78.63 513.60,79.36 513.90,79.57 514.20,79.41 514.50,78.70 514.80,78.74 515.10,77.62 515.40,77.69 515.70,79.72 516.00,79.81 516.30,78.50 516.60,77.25 516.90,78.47 517.20,79.04 517.50,78.19 517.80,78.63 518.10,78.43 518.40,78.35 518.70,79.56 519.00,79.27 519.30,79.53 519.60,80.05 519.90,79.17 520.20,77.59 520.50,76.03 520.80,74.53 521.10,73.88 521.40,74.76 521.70,77.04 522.00,78.70 522.30,78.71 522.60,79.34 522.90,80.22 523.20,79.72 523.50,79.43 523.80,79.81 524.10,80.90 524.40,80.56 524.70,78.78 525.00,78.54 525.30,79.58 525.60,79.82 525.90,79.19 526.20,79.76 526.50,80.59 526.80,80.10 527.10,79.88 527.40,79.67 527.70,79.20 528.00,79.41 528.30,78.95 528.60,79.17 528.90,79.73 529.20,79.08 529.50,79.01 529.80,79.21 530.10,78.53 530.40,77.87 530.70,77.59 531.00,78.45 531.30,77.69 531.60,76.63 531.90,78.19 532.20,77.94 532.50,77.24 532.80,77.62 533.10,77.40 533.40,78.79 533.70,79.83 534.00,78.68 534.30,78.61 534.60,79.50 534.90,79.77" fill="none" stroke="#3a32e0" stroke-width="0.75" stroke-linejoin="round"/>
<path d="M296.40,134.58 296.60,134.44 296.80,134.31 297.00,134.05 297.20,133.68 297.40,133.16 297.60,132.66 297.80,131.83 298.00,130.42 298.20,128.25 298.40,124.74 298.60,119.54 298.80,113.01 299.00,109.58 299.20,113.27 299.40,119.76 299.60,124.79 299.80,128.07 300.00,130.16 300.20,131.62 300.40,132.49 300.60,133.15 300.80,133.60 301.00,133.95 301.20,134.10 301.40,134.29 301.60,134.31 301.80,134.42 302.00,134.51 302.20,134.57 302.40,134.44 302.60,134.33 302.80,134.22 303.00,134.16 303.20,133.84 303.40,133.63 303.60,133.55 303.80,133.69 304.00,134.04 304.20,134.27 304.40,134.47 304.60,134.48 304.80,134.72 305.00,134.86 305.20,134.90 305.40,134.78 305.60,134.74 305.80,134.78 306.00,134.61 306.20,134.54 306.40,134.33 306.60,134.19 306.80,133.83 307.00,133.52 307.20,133.20 307.40,132.71 307.60,132.32 307.80,132.15 308.00,132.54 308.20,133.07 308.40,133.51 308.60,133.82 308.80,134.09 309.00,134.26 309.20,134.41 309.40,134.49 309.60,134.55 309.80,134.58 310.00,134.55 310.20,134.71 310.40,134.61 310.60,134.61 310.80,134.47 311.00,134.49 311.20,134.28 311.40,133.99 311.60,133.60 311.80,133.08 312.00,132.83 312.20,132.85 312.40,133.23 312.60,133.70 312.80,133.90 313.00,134.08 313.20,134.04 313.40,134.10 313.60,134.23 313.80,134.29 314.00,134.41 314.20,134.25 314.40,133.97 314.60,133.43 314.80,133.07 315.00,132.57 315.20,132.03 315.40,131.52 315.60,131.52 315.80,131.92 316.00,132.37 316.20,132.84 316.40,133.23 316.60,133.52 316.80,133.59 317.00,133.57 317.20,133.47 317.40,133.33 317.60,133.12 317.80,132.60 318.00,131.92 318.20,130.88 318.40,129.92 318.60,128.85 318.80,128.52 319.00,128.80 319.20,129.93 319.40,131.07 319.60,131.94 319.80,132.60 320.00,132.94 320.20,133.51 320.40,133.76 320.60,133.97 320.80,133.96 321.00,134.18 321.20,134.44 321.40,134.61 321.60,134.47 321.80,134.34 322.00,134.31 322.20,134.22 322.40,134.05 322.60,133.66 322.80,133.32 323.00,133.02 323.20,132.70 323.40,132.49 323.60,132.46 323.80,132.81 324.00,133.33 324.20,133.70 324.40,133.94 324.60,134.01 324.80,134.26 325.00,134.37 325.20,134.43 325.40,134.40 325.60,134.48 325.80,134.67 326.00,134.77 326.20,134.73 326.40,134.62 326.60,134.52 326.80,134.47 327.00,134.49 327.20,134.51 327.40,134.54 327.60,134.38 327.80,134.19 328.00,134.16 328.20,134.06 328.40,133.99 328.60,133.69 328.80,133.39 329.00,132.85 329.20,132.35 329.40,131.96 329.60,131.96 329.80,132.18 330.00,132.54 330.20,132.83 330.40,132.99 330.60,133.05 330.80,133.04 331.00,132.91 331.20,132.67 331.40,132.36 331.60,131.93 331.80,131.39 332.00,130.39 332.20,129.25 332.40,127.72 332.60,125.98 332.80,124.18 333.00,123.28 333.20,123.97 333.40,125.61 333.60,127.71 333.80,129.23 334.00,130.49 334.20,131.05 334.40,131.55 334.60,131.82 334.80,132.15 335.00,132.30 335.20,132.25 335.40,131.84 335.60,131.52 335.80,131.07 336.00,131.12 336.20,131.28 336.40,131.68 336.60,131.90 336.80,131.81 337.00,131.88 337.20,131.58 337.40,131.27 337.60,130.29 337.80,129.20 338.00,127.65 338.20,126.16 338.40,125.07 338.60,125.16 338.80,126.35 339.00,127.91 339.20,129.30 339.40,130.26 339.60,131.09 339.80,131.48 340.00,131.77 340.20,131.49 340.40,131.26 340.60,130.85 340.80,130.61 341.00,130.72 341.20,131.06 341.40,131.39 341.60,131.55 341.80,131.68 342.00,132.06 342.20,132.23 342.40,132.15 342.60,131.68 342.80,131.12 343.00,130.28 343.20,129.37 343.40,128.28 343.60,127.24 343.80,126.34 344.00,126.29 344.20,127.22 344.40,128.54 344.60,129.64 344.80,130.43 345.00,131.05 345.20,131.46 345.40,131.60 345.60,131.61 345.80,131.55 346.00,131.35 346.20,131.13 346.40,130.73 346.60,130.41 346.80,130.27 347.00,130.51 347.20,130.86 347.40,131.10 347.60,131.25 347.80,131.45 348.00,131.43 348.20,131.37 348.40,131.06 348.60,130.97 348.80,130.84 349.00,130.71 349.20,130.37 349.40,129.83 349.60,129.28 349.80,128.70 350.00,127.90 350.20,126.54 350.40,124.50 350.60,121.58 350.80,117.82 351.00,115.50 351.20,116.98 351.40,120.13 351.60,122.49 351.80,123.89 352.00,124.40 352.20,124.55 352.40,124.04 352.60,123.12 352.80,121.58 353.00,118.94 353.20,114.74 353.40,108.18 353.60,100.10 353.80,95.58 354.00,99.64 354.20,107.46 354.40,113.63 354.60,117.66 354.80,119.83 355.00,121.04 355.20,121.43 355.40,121.41 355.60,121.00 355.80,120.19 356.00,118.64 356.20,115.98 356.40,111.59 356.60,104.90 356.80,94.91 357.00,85.37 357.20,85.10 357.40,94.55 357.60,104.20 357.80,110.67 358.00,114.60 358.20,117.02 358.40,118.27 358.60,118.69 358.80,118.35 359.00,117.36 359.20,115.27 359.40,111.52 359.60,105.44 359.80,95.73 360.00,83.27 360.20,76.49 360.40,83.66 360.60,96.65 360.80,106.86 361.00,113.35 361.20,117.55 361.40,120.31 361.60,122.37 361.80,123.78 362.00,125.03 362.20,125.90 362.40,126.81 362.60,127.34 362.80,127.83 363.00,128.24 363.20,128.65 363.40,129.09 363.60,129.50 363.80,129.91 364.00,130.17 364.20,130.11 364.40,129.95 364.60,129.80 364.80,129.57 365.00,128.97 365.20,127.90 365.40,126.05 365.60,123.25 365.80,119.11 366.00,114.92 366.20,115.07 366.40,119.30 366.60,123.82 366.80,126.95 367.00,128.99 367.20,130.35 367.40,131.00 367.60,131.66 367.80,131.97 368.00,132.26 368.20,132.35 368.40,132.44 368.60,132.53 368.80,132.45 369.00,132.15 369.20,132.03 369.40,131.67 369.60,131.47 369.80,130.93 370.00,130.22 370.20,129.28 370.40,127.93 370.60,126.01 370.80,123.06 371.00,118.28 371.20,110.80 371.40,99.19 371.60,84.79 371.80,77.20 372.00,85.29 372.20,99.85 372.40,111.16 372.60,118.68 372.80,123.44 373.00,126.40 373.20,128.43 373.40,129.80 373.60,130.95 373.80,131.50 374.00,131.98 374.20,132.41 374.40,132.78 374.60,133.20 374.80,133.42 375.00,133.75 375.20,133.91 375.40,134.04 375.60,134.18 375.80,134.23 376.00,134.30 376.20,134.54 376.40,134.71 376.60,134.80 376.80,134.68 377.00,134.59 377.20,134.58 377.40,134.55 377.60,134.65 377.80,134.55 378.00,134.35 378.20,134.16 378.40,134.13 378.60,134.25 378.80,134.09 379.00,133.68 379.20,133.31 379.40,133.20 379.60,133.51 379.80,133.81 380.00,134.09 380.20,134.39 380.40,134.67 380.60,134.92 380.80,135.03 381.00,135.25 381.20,135.35 381.40,135.36 381.60,135.34 381.80,135.27 382.00,135.39 382.20,135.32 382.40,135.41 382.60,135.40 382.80,135.60 383.00,135.63 383.20,135.72 383.40,135.66 383.60,135.64 383.80,135.67 384.00,135.61 384.20,135.63 384.40,135.54 384.60,135.57 384.80,135.73 385.00,135.75 385.20,135.92 385.40,135.92 385.60,135.94 385.80,135.81 386.00,135.83 386.20,135.76 386.40,135.69 386.60,135.64 386.80,135.83 387.00,136.01 387.20,136.09 387.40,136.05 387.60,135.91 387.80,135.91 388.00,135.83 388.20,136.04 388.40,136.08 388.60,136.22 388.80,136.20 389.00,136.25 389.20,136.28 389.40,136.30 389.60,136.26 389.80,136.17 390.00,136.19 390.20,136.32 390.40,136.46 390.60,136.42 390.80,136.36 391.00,136.25 391.20,136.28 391.40,136.20 391.60,136.23 391.80,136.33 392.00,136.41 392.20,136.49 392.40,136.30 392.60,136.19 392.80,136.08 393.00,136.16 393.20,136.19 393.40,136.25 393.60,136.17 393.80,136.27 394.00,136.25 394.20,136.21 394.40,136.15 394.60,136.06 394.80,136.19 395.00,136.11 395.20,136.14 395.40,136.10 395.60,135.94 395.80,135.79 396.00,135.75 396.20,135.92 396.40,136.10 396.60,136.10 396.80,136.02 397.00,135.96 397.20,135.89 397.40,135.95 397.60,135.88 397.80,135.95 398.00,135.86 398.20,135.81 398.40,135.63 398.60,135.86 398.80,135.86 399.00,135.94 399.20,135.71 399.40,135.73 399.60,135.75 399.80,135.86 400.00,135.90 400.20,135.94 400.40,135.86 400.60,135.83 400.80,135.88 401.00,135.91 401.20,135.93 401.40,135.70 401.60,135.73 401.80,135.72 402.00,135.93 402.20,135.70 402.40,135.68 402.60,135.57 402.80,135.75 403.00,135.70 403.20,135.71 403.40,135.74 403.60,135.78 403.80,135.74 404.00,135.67 404.20,135.63 404.40,135.64 404.60,135.60 404.80,135.48 405.00,135.56 405.20,135.48 405.40,135.60 405.60,135.41 405.80,135.50 406.00,135.44 406.20,135.51 406.40,135.46 406.60,135.43 406.80,135.45 407.00,135.58 407.20,135.68 407.40,135.66 407.60,135.49 407.80,135.45 408.00,135.47 408.20,135.49 408.40,135.54 408.60,135.50 408.80,135.56 409.00,135.46 409.20,135.42 409.40,135.40 409.60,135.45 409.80,135.49 410.00,135.40 410.20,135.32 410.40,135.29 410.60,135.22 410.80,135.33 411.00,135.34 411.20,135.46 411.40,135.33 411.60,135.36 411.80,135.33 412.00,135.49 412.20,135.45 412.40,135.36 412.60,135.28 412.80,135.21 413.00,135.26 413.20,135.19 413.40,135.21 413.60,135.25 413.80,135.30 414.00,135.33 414.20,135.26 414.40,135.11 414.60,135.02 414.80,135.08 415.00,135.22 415.20,135.38 415.40,135.26 415.60,135.20 415.80,135.05 416.00,135.11 416.20,135.10 416.40,135.09 416.60,135.09 416.80,135.03 417.00,135.06 417.20,135.14 417.40,135.28 417.60,135.21 417.80,135.06 418.00,134.93 418.20,134.90 418.40,135.03 418.60,134.98 418.80,135.03 419.00,134.87 419.20,134.89 419.40,134.89 419.60,135.07 419.80,135.04 420.00,135.04 420.20,134.79 420.40,134.74 420.60,134.65 420.80,134.75 421.00,134.84 421.20,134.93 421.40,134.84 421.60,134.84 421.80,134.71 422.00,134.93 422.20,134.90 422.40,134.98 422.60,134.83 422.80,134.80 423.00,134.78 423.20,134.73 423.40,134.77 423.60,134.78 423.80,134.86 424.00,134.80 424.20,134.81 424.40,134.70 424.60,134.93 424.80,134.83 425.00,134.84 425.20,134.65 425.40,134.77 425.60,134.74 425.80,134.55 426.00,134.36 426.20,134.34 426.40,134.39 426.60,134.46 426.80,134.58 427.00,134.69 427.20,134.65 427.40,134.61 427.60,134.58 427.80,134.71 428.00,134.65 428.20,134.53 428.40,134.48 428.60,134.58 428.80,134.58 429.00,134.65 429.20,134.65 429.40,134.66 429.60,134.41 429.80,134.24 430.00,134.23 430.20,134.36 430.40,134.27 430.60,134.45 430.80,134.56 431.00,134.61 431.20,134.31 431.40,134.13 431.60,134.20 431.80,134.40 432.00,134.45 432.20,134.39 432.40,134.16 432.60,134.14 432.80,134.19 433.00,134.29 433.20,134.27 433.40,134.21 433.60,134.20 433.80,134.10 434.00,134.10 434.20,134.01 434.40,134.16 434.60,134.07 434.80,134.19 435.00,134.03 435.20,134.11 435.40,134.05 435.60,134.12 435.80,134.03 436.00,133.92 436.20,133.86 436.40,133.88 436.60,133.87 436.80,133.83 437.00,133.73 437.20,133.83 437.40,133.84 437.60,133.94 437.80,134.10 438.00,134.12 438.20,134.13 438.40,133.99 438.60,133.96 438.80,133.88 439.00,133.89 439.20,133.95 439.40,133.78 439.60,133.70 439.80,133.60 440.00,133.74 440.20,133.83 440.40,133.80 440.60,133.88 440.80,133.75 441.00,133.75 441.20,133.73 441.40,133.70 441.60,133.71 441.80,133.57 442.00,133.55 442.20,133.60 442.40,133.70 442.60,133.67 442.80,133.53 443.00,133.65 443.20,133.67 443.40,133.68 443.60,133.53 443.80,133.51 444.00,133.53 444.20,133.54 444.40,133.65 444.60,133.64 444.80,133.66 445.00,133.57 445.20,133.56 445.40,133.45 445.60,133.43 445.80,133.46 446.00,133.47 446.20,133.42 446.40,133.39 446.60,133.32 446.80,133.32 447.00,133.28 447.20,133.37 447.40,133.41 447.60,133.49 447.80,133.51 448.00,133.47 448.20,133.33 448.40,133.15 448.60,133.16 448.80,133.24 449.00,133.37 449.20,133.25 449.40,133.23 449.60,133.17 449.80,133.40 450.00,133.32 450.20,133.22 450.40,132.92 450.60,132.82 450.80,132.71 451.00,132.70 451.20,132.65 451.40,132.56 451.60,132.55 451.80,132.56 452.00,132.61 452.20,132.48 452.40,132.37 452.60,132.20 452.80,131.88 453.00,131.56 453.20,131.18 453.40,131.06 453.60,131.04 453.80,131.17 454.00,131.46 454.20,131.72 454.40,131.86 454.60,131.82 454.80,131.70 455.00,131.66 455.20,131.65 455.40,131.51 455.60,131.40 455.80,131.16 456.00,131.06 456.20,130.91 456.40,130.90 456.60,130.78 456.80,130.66 457.00,130.56 457.20,130.68 457.40,130.78 457.60,130.85 457.80,130.85 458.00,130.84 458.20,130.94 458.40,130.98 458.60,130.87 458.80,130.62 459.00,130.14 459.20,129.92 459.40,129.69 459.60,129.68 459.80,129.64 460.00,129.95 460.20,130.07 460.40,130.22 460.60,130.14 460.80,130.21 461.00,130.15 461.20,129.89 461.40,129.43 461.60,128.98 461.80,128.44 462.00,127.90 462.20,127.65 462.40,127.64 462.60,128.15 462.80,128.51 463.00,129.05 463.20,129.49 463.40,129.99 463.60,130.48 463.80,130.65 464.00,130.87 464.20,130.82 464.40,130.98 464.60,130.93 464.80,130.85 465.00,130.81 465.20,130.65 465.40,130.70 465.60,130.52 465.80,130.72 466.00,130.93 466.20,131.32 466.40,131.57 466.60,131.74 466.80,131.72 467.00,131.86 467.20,131.98 467.40,132.27 467.60,132.46 467.80,132.74 468.00,132.86 468.20,132.93 468.40,132.87 468.60,132.93 468.80,132.94 469.00,132.91 469.20,132.88 469.40,132.89 469.60,133.06 469.80,133.16 470.00,133.27 470.20,133.09 470.40,133.07 470.60,133.01 470.80,133.15 471.00,133.07 471.20,132.93 471.40,132.78 471.60,132.86 471.80,133.16 472.00,133.33 472.20,133.29 472.40,133.17 472.60,133.15 472.80,133.26 473.00,133.22 473.20,133.17 473.40,133.14 473.60,133.23 473.80,133.35 474.00,133.48 474.20,133.38 474.40,133.44 474.60,133.38 474.80,133.48 475.00,133.50 475.20,133.50 475.40,133.52 475.60,133.49 475.80,133.56 476.00,133.61 476.20,133.67 476.40,133.67 476.60,133.60 476.80,133.69 477.00,133.67 477.20,133.73 477.40,133.53 477.60,133.40 477.80,133.34 478.00,133.40 478.20,133.60 478.40,133.66 478.60,133.72 478.80,133.77 479.00,133.84 479.20,133.80 479.40,133.75 479.60,133.69 479.80,133.64 480.00,133.74 480.20,133.68 480.40,133.75 480.60,133.68 480.80,133.63 481.00,133.70 481.20,133.67 481.40,133.84 481.60,133.78 481.80,133.71 482.00,133.72 482.20,133.76 482.40,133.95 482.60,133.98 482.80,133.87 483.00,133.89 483.20,133.92 483.40,134.09 483.60,134.06 483.80,133.98 484.00,133.97 484.20,133.93 484.40,134.18 484.60,134.14 484.80,134.10 485.00,133.90 485.20,134.02 485.40,134.07 485.60,133.94 485.80,133.95 486.00,134.02 486.20,134.16 486.40,134.12 486.60,134.05 486.80,134.02 487.00,134.04 487.20,134.08 487.40,134.21 487.60,134.16 487.80,134.26 488.00,134.24 488.20,134.11 488.40,134.12 488.60,134.09 488.80,134.30 489.00,134.27 489.20,134.41 489.40,134.34 489.60,134.20 489.80,134.10 490.00,134.17 490.20,134.29 490.40,134.29 490.60,134.37 490.80,134.39 491.00,134.51 491.20,134.43 491.40,134.35 491.60,134.23 491.80,134.21 492.00,134.34 492.20,134.36 492.40,134.30 492.60,134.22 492.80,134.26 493.00,134.30 493.20,134.34 493.40,134.51 493.60,134.60 493.80,134.60 494.00,134.49 494.20,134.58 494.40,134.69 494.60,134.70 494.80,134.51 495.00,134.37 495.20,134.36 495.40,134.46 495.60,134.48 495.80,134.42 496.00,134.44 496.20,134.41 496.40,134.39 496.60,134.41 496.80,134.60 497.00,134.75 497.20,134.83 497.40,134.91 497.60,134.96 497.80,134.89 498.00,134.94 498.20,135.00 498.40,135.09 498.60,134.91 498.80,134.83 499.00,134.64 499.20,134.69 499.40,134.51 499.60,134.63 499.80,134.73 500.00,134.91 500.20,135.06 500.40,135.00 500.60,135.02 500.80,134.90 501.00,134.95 501.20,134.95 501.40,135.06 501.60,135.15 501.80,135.19 502.00,135.04 502.20,134.99 502.40,135.06 502.60,135.19 502.80,135.19 503.00,135.17 503.20,135.23 503.40,135.04 503.60,135.09 503.80,135.07 504.00,135.29 504.20,135.16 504.40,135.14 504.60,135.16 504.80,135.11 505.00,135.15 505.20,135.13 505.40,135.34 505.60,135.34 505.80,135.34 506.00,135.26 506.20,135.26 506.40,135.30 506.60,135.34 506.80,135.26 507.00,135.18 507.20,135.12 507.40,135.08 507.60,135.13 507.80,135.20 508.00,135.20 508.20,135.18 508.40,135.21 508.60,135.30 508.80,135.39 509.00,135.27 509.20,135.25 509.40,135.24 509.60,135.44 509.80,135.56 510.00,135.48 510.20,135.41 510.40,135.45 510.60,135.62 510.80,135.52 511.00,135.47 511.20,135.57 511.40,135.60 511.60,135.64 511.80,135.46 512.00,135.45 512.20,135.41 512.40,135.54 512.60,135.72 512.80,135.70 513.00,135.61 513.20,135.48 513.40,135.42 513.60,135.50 513.80,135.67 514.00,135.92 514.20,135.86 514.40,135.86 514.60,135.84 514.80,135.86 515.00,135.79 515.20,135.70 515.40,135.75 515.60,135.88 515.80,135.86 516.00,135.77 516.20,135.72 516.40,135.80 516.60,135.77 516.80,135.65 517.00,135.60 517.20,135.70 517.40,135.80 517.60,135.94 517.80,135.98 518.00,135.98 518.20,135.87 518.40,135.96 518.60,136.05 518.80,136.10 519.00,135.99 519.20,136.05 519.40,136.14 519.60,136.14 519.80,135.90 520.00,135.84 520.20,135.99 520.40,136.07 520.60,136.09 520.80,135.99 521.00,136.08 521.20,136.20 521.40,136.16 521.60,136.11 521.80,136.01 522.00,136.07 522.20,136.02 522.40,136.10 522.60,136.16 522.80,136.30 523.00,136.36 523.20,136.34 523.40,136.34 523.60,136.22 523.80,136.25 524.00,136.25 524.20,136.28 524.40,136.19 524.60,136.28 524.80,136.31 525.00,136.35 525.20,136.11 525.40,136.11 525.60,136.25 525.80,136.47 526.00,136.56 526.20,136.50 526.40,136.49 526.60,136.32 526.80,136.37 527.00,136.40 527.20,136.47 527.40,136.46 527.60,136.42 527.80,136.48 528.00,136.60 528.20,136.54 528.40,136.63 528.60,136.46 528.80,136.50 529.00,136.37 529.20,136.46 529.40,136.48 529.60,136.57 529.80,136.59 530.00,136.78 530.20,136.79 530.40,136.78 530.60,136.67 530.80,136.70 531.00,136.71 531.20,136.63 531.40,136.54 531.60,136.58 531.80,136.72 532.00,136.82 532.20,136.81 532.40,136.81 532.60,136.75 532.80,136.79 533.00,136.85 533.20,136.97 533.40,137.06 533.60,136.95 533.80,136.90 534.00,136.75 534.20,136.85 534.40,136.82 534.60,136.81 534.80,136.73 535.00,136.79 535.20,136.74 535.40,136.69 535.60,136.74" fill="none" stroke="#f0505a" stroke-width="0.75" stroke-linejoin="round"/>
<path d="M296.40,190.17 296.60,190.01 296.80,189.78 297.00,189.46 297.20,189.18 297.40,188.75 297.60,188.17 297.80,187.17 298.00,185.77 298.20,183.63 298.40,180.18 298.60,174.72 298.80,168.02 299.00,164.35 299.20,168.14 299.40,174.76 299.60,180.19 299.80,183.63 300.00,185.86 300.20,187.27 300.40,188.19 300.60,188.77 300.80,189.08 301.00,189.29 301.20,189.69 301.40,189.89 301.60,190.13 301.80,190.26 302.00,190.28 302.20,190.43 302.40,190.31 302.60,190.42 302.80,190.36 303.00,190.60 303.20,190.77 303.40,190.84 303.60,190.81 303.80,190.70 304.00,190.75 304.20,190.64 304.40,190.53 304.60,190.36 304.80,190.38 305.00,190.56 305.20,190.60 305.40,190.42 305.60,190.24 305.80,190.01 306.00,189.71 306.20,189.13 306.40,188.43 306.60,187.51 306.80,186.50 307.00,186.13 307.20,186.56 307.40,187.63 307.60,188.48 307.80,189.06 308.00,189.47 308.20,189.93 308.40,190.26 308.60,190.38 308.80,190.34 309.00,190.39 309.20,190.50 309.40,190.55 309.60,190.75 309.80,190.78 310.00,190.88 310.20,190.90 310.40,191.02 310.60,191.01 310.80,190.95 311.00,190.90 311.20,190.90 311.40,190.77 311.60,190.75 311.80,190.81 312.00,190.92 312.20,190.80 312.40,190.70 312.60,190.59 312.80,190.58 313.00,190.59 313.20,190.63 313.40,190.56 313.60,190.35 313.80,190.06 314.00,189.69 314.20,189.18 314.40,188.43 314.60,187.55 314.80,186.81 315.00,186.48 315.20,186.85 315.40,187.53 315.60,188.26 315.80,188.93 316.00,189.41 316.20,189.66 316.40,189.83 316.60,189.87 316.80,190.08 317.00,190.03 317.20,190.10 317.40,189.84 317.60,189.59 317.80,189.18 318.00,188.78 318.20,188.11 318.40,186.98 318.60,185.58 318.80,184.17 319.00,183.59 319.20,184.18 319.40,185.67 319.60,187.04 319.80,188.07 320.00,188.74 320.20,189.28 320.40,189.68 320.60,189.94 320.80,190.14 321.00,190.28 321.20,190.38 321.40,190.41 321.60,190.37 321.80,190.28 322.00,190.19 322.20,190.15 322.40,189.97 322.60,189.68 322.80,189.35 323.00,188.86 323.20,188.23 323.40,187.61 323.60,187.36 323.80,187.81 324.00,188.41 324.20,189.03 324.40,189.42 324.60,189.77 324.80,190.06 325.00,190.25 325.20,190.39 325.40,190.40 325.60,190.51 325.80,190.46 326.00,190.57 326.20,190.64 326.40,190.82 326.60,190.94 326.80,190.80 327.00,190.77 327.20,190.72 327.40,190.84 327.60,190.70 327.80,190.60 328.00,190.58 328.20,190.44 328.40,190.30 328.60,190.06 328.80,189.83 329.00,189.45 329.20,188.87 329.40,188.50 329.60,188.36 329.80,188.68 330.00,189.05 330.20,189.40 330.40,189.45 330.60,189.46 330.80,189.36 331.00,189.25 331.20,188.85 331.40,188.33 331.60,187.54 331.80,186.57 332.00,185.01 332.20,183.10 332.40,181.04 332.60,179.97 332.80,180.75 333.00,182.82 333.20,184.91 333.40,186.58 333.60,187.62 333.80,188.32 334.00,188.81 334.20,189.07 334.40,189.21 334.60,189.38 334.80,189.35 335.00,189.46 335.20,189.24 335.40,189.10 335.60,188.59 335.80,188.18 336.00,187.87 336.20,188.03 336.40,188.27 336.60,188.68 336.80,188.92 337.00,188.98 337.20,188.74 337.40,188.38 337.60,187.70 337.80,186.86 338.00,185.66 338.20,184.07 338.40,182.43 338.60,181.58 338.80,182.30 339.00,183.91 339.20,185.52 339.40,186.77 339.60,187.55 339.80,188.11 340.00,188.25 340.20,188.17 340.40,187.72 340.60,187.23 340.80,186.73 341.00,186.50 341.20,186.82 341.40,187.46 341.60,188.10 341.80,188.48 342.00,188.70 342.20,188.75 342.40,188.68 342.60,188.37 342.80,187.88 343.00,186.99 343.20,185.74 343.40,184.50 343.60,183.98 343.80,184.46 344.00,185.73 344.20,186.92 344.40,187.97 344.60,188.42 344.80,188.88 345.00,189.02 345.20,189.17 345.40,188.98 345.60,188.85 345.80,188.53 346.00,188.12 346.20,187.55 346.40,187.09 346.60,187.17 346.80,187.63 347.00,188.22 347.20,188.70 347.40,189.15 347.60,189.53 347.80,189.74 348.00,189.68 348.20,189.67 348.40,189.71 348.60,189.79 348.80,189.67 349.00,189.50 349.20,189.32 349.40,189.20 349.60,188.92 349.80,188.68 350.00,188.20 350.20,187.49 350.40,186.47 350.60,185.04 350.80,182.77 351.00,179.11 351.20,173.72 351.40,168.80 351.60,168.63 351.80,173.34 352.00,178.03 352.20,181.27 352.40,183.29 352.60,184.33 352.80,184.70 353.00,184.43 353.20,183.71 353.40,182.53 353.60,180.59 353.80,177.37 354.00,172.02 354.20,163.55 354.40,152.89 354.60,146.98 354.80,152.72 355.00,163.03 355.20,171.08 355.40,175.86 355.60,178.64 355.80,179.87 356.00,180.08 356.20,179.40 356.40,177.67 356.60,174.39 356.80,168.59 357.00,159.37 357.20,147.49 357.40,140.92 357.60,147.26 357.80,159.06 358.00,168.45 358.20,174.27 358.40,177.65 358.60,179.34 358.80,180.21 359.00,180.06 359.20,178.94 359.40,176.49 359.60,172.49 359.80,165.65 360.00,154.59 360.20,140.48 360.40,132.91 360.60,140.91 360.80,155.26 361.00,166.69 361.20,174.11 361.40,178.83 361.60,181.75 361.80,183.72 362.00,185.10 362.20,186.03 362.40,186.77 362.60,187.28 362.80,187.80 363.00,188.01 363.20,188.32 363.40,188.46 363.60,188.76 363.80,188.76 364.00,188.69 364.20,188.49 364.40,188.36 364.60,188.21 364.80,187.95 365.00,187.57 365.20,186.96 365.40,185.74 365.60,184.03 365.80,181.12 366.00,176.59 366.20,170.52 366.40,167.25 366.60,170.42 366.80,176.20 367.00,180.78 367.20,183.70 367.40,185.61 367.60,186.80 367.80,187.62 368.00,188.14 368.20,188.43 368.40,188.54 368.60,188.63 368.80,188.65 369.00,188.69 369.20,188.60 369.40,188.30 369.60,188.04 369.80,187.62 370.00,187.27 370.20,186.66 370.40,185.80 370.60,184.38 370.80,182.22 371.00,179.33 371.20,174.79 371.40,167.53 371.60,156.06 371.80,141.59 372.00,133.63 372.20,141.46 372.40,155.78 372.60,167.21 372.80,174.68 373.00,179.51 373.20,182.63 373.40,184.63 373.60,186.05 373.80,187.07 374.00,187.77 374.20,188.31 374.40,188.60 374.60,189.06 374.80,189.35 375.00,189.70 375.20,189.92 375.40,190.13 375.60,190.23 375.80,190.29 376.00,190.22 376.20,190.32 376.40,190.34 376.60,190.38 376.80,190.47 377.00,190.44 377.20,190.58 377.40,190.47 377.60,190.55 377.80,190.54 378.00,190.44 378.20,190.17 378.40,189.91 378.60,189.74 378.80,189.42 379.00,188.83 379.20,188.06 379.40,187.17 379.60,186.82 379.80,187.08 380.00,188.06 380.20,188.83 380.40,189.44 380.60,189.83 380.80,190.09 381.00,190.37 381.20,190.51 381.40,190.70 381.60,190.75 381.80,190.92 382.00,190.99 382.20,191.12 382.40,191.13 382.60,191.12 382.80,191.16 383.00,191.17 383.20,191.26 383.40,191.23 383.60,191.20 383.80,191.24 384.00,191.41 384.20,191.40 384.40,191.40 384.60,191.26 384.80,191.37 385.00,191.37 385.20,191.47 385.40,191.26 385.60,191.21 385.80,191.10 386.00,191.27 386.20,191.27 386.40,191.30 386.60,191.35 386.80,191.51 387.00,191.39 387.20,191.34 387.40,191.25 387.60,191.42 387.80,191.43 388.00,191.33 388.20,191.28 388.40,191.35 388.60,191.50 388.80,191.57 389.00,191.48 389.20,191.43 389.40,191.41 389.60,191.50 389.80,191.51 390.00,191.49 390.20,191.47 390.40,191.40 390.60,191.49 390.80,191.55 391.00,191.56 391.20,191.54 391.40,191.41 391.60,191.55 391.80,191.58 392.00,191.63 392.20,191.63 392.40,191.55 392.60,191.53 392.80,191.44 393.00,191.46 393.20,191.49 393.40,191.53 393.60,191.51 393.80,191.58 394.00,191.63 394.20,191.64 394.40,191.51 394.60,191.50 394.80,191.60 395.00,191.68 395.20,191.56 395.40,191.51 395.60,191.62 395.80,191.59 396.00,191.60 396.20,191.50 396.40,191.56 396.60,191.56 396.80,191.51 397.00,191.58 397.20,191.63 397.40,191.72 397.60,191.66 397.80,191.47 398.00,191.39 398.20,191.33 398.40,191.52 398.60,191.58 398.80,191.62 399.00,191.44 399.20,191.38 399.40,191.42 399.60,191.42 399.80,191.57 400.00,191.54 400.20,191.57 400.40,191.48 400.60,191.61 400.80,191.73 401.00,191.67 401.20,191.59 401.40,191.52 401.60,191.57 401.80,191.57 402.00,191.49 402.20,191.38 402.40,191.37 402.60,191.35 402.80,191.50 403.00,191.49 403.20,191.49 403.40,191.38 403.60,191.34 403.80,191.39 404.00,191.46 404.20,191.40 404.40,191.29 404.60,191.24 404.80,191.31 405.00,191.43 405.20,191.43 405.40,191.42 405.60,191.45 405.80,191.37 406.00,191.38 406.20,191.27 406.40,191.25 406.60,191.28 406.80,191.36 407.00,191.30 407.20,191.19 407.40,191.17 407.60,191.34 407.80,191.36 408.00,191.33 408.20,191.17 408.40,191.36 408.60,191.39 408.80,191.52 409.00,191.40 409.20,191.42 409.40,191.40 409.60,191.33 409.80,191.32 410.00,191.28 410.20,191.37 410.40,191.27 410.60,191.23 410.80,191.19 411.00,191.30 411.20,191.34 411.40,191.25 411.60,191.16 411.80,191.11 412.00,191.26 412.20,191.32 412.40,191.41 412.60,191.31 412.80,191.22 413.00,191.21 413.20,191.28 413.40,191.34 413.60,191.26 413.80,191.22 414.00,191.16 414.20,191.20 414.40,191.09 414.60,191.04 414.80,191.02 415.00,191.08 415.20,191.25 415.40,191.19 415.60,191.16 415.80,190.97 416.00,190.87 416.20,190.76 416.40,190.85 416.60,190.88 416.80,191.05 417.00,191.10 417.20,191.15 417.40,191.17 417.60,191.09 417.80,191.17 418.00,191.05 418.20,191.09 418.40,190.96 418.60,191.00 418.80,190.91 419.00,190.95 419.20,190.95 419.40,190.98 419.60,190.97 419.80,190.97 420.00,191.00 420.20,190.92 420.40,190.90 420.60,190.89 420.80,190.92 421.00,190.90 421.20,190.78 421.40,190.90 421.60,190.86 421.80,190.92 422.00,190.90 422.20,190.90 422.40,190.94 422.60,190.79 422.80,190.76 423.00,190.63 423.20,190.68 423.40,190.77 423.60,190.86 423.80,190.92 424.00,190.79 424.20,190.71 424.40,190.62 424.60,190.71 424.80,190.78 425.00,190.80 425.20,190.80 425.40,190.76 425.60,190.75 425.80,190.79 426.00,190.75 426.20,190.76 426.40,190.77 426.60,190.80 426.80,190.83 427.00,190.69 427.20,190.79 427.40,190.61 427.60,190.57 427.80,190.38 428.00,190.61 428.20,190.69 428.40,190.73 428.60,190.55 428.80,190.54 429.00,190.56 429.20,190.59 429.40,190.47 429.60,190.39 429.80,190.43 430.00,190.54 430.20,190.60 430.40,190.57 430.60,190.44 430.80,190.43 431.00,190.37 431.20,190.47 431.40,190.49 431.60,190.50 431.80,190.43 432.00,190.46 432.20,190.51 432.40,190.53 432.60,190.28 432.80,190.25 433.00,190.32 433.20,190.55 433.40,190.51 433.60,190.43 433.80,190.32 434.00,190.41 434.20,190.37 434.40,190.38 434.60,190.27 434.80,190.35 435.00,190.25 435.20,190.32 435.40,190.27 435.60,190.34 435.80,190.34 436.00,190.43 436.20,190.34 436.40,190.36 436.60,190.31 436.80,190.39 437.00,190.41 437.20,190.38 437.40,190.46 437.60,190.33 437.80,190.26 438.00,190.25 438.20,190.41 438.40,190.49 438.60,190.46 438.80,190.29 439.00,190.17 439.20,190.09 439.40,190.20 439.60,190.16 439.80,190.14 440.00,189.92 440.20,190.02 440.40,190.09 440.60,190.11 440.80,190.06 441.00,190.07 441.20,190.12 441.40,190.05 441.60,189.87 441.80,189.74 442.00,189.84 442.20,189.85 442.40,190.02 442.60,190.00 442.80,189.99 443.00,189.87 443.20,189.85 443.40,189.88 443.60,189.90 443.80,189.74 444.00,189.76 444.20,189.67 444.40,189.61 444.60,189.50 444.80,189.55 445.00,189.79 445.20,189.78 445.40,189.66 445.60,189.63 445.80,189.64 446.00,189.68 446.20,189.46 446.40,189.37 446.60,189.44 446.80,189.46 447.00,189.46 447.20,189.32 447.40,189.39 447.60,189.36 447.80,189.40 448.00,189.28 448.20,189.30 448.40,189.17 448.60,189.15 448.80,189.19 449.00,189.20 449.20,189.05 449.40,188.83 449.60,188.79 449.80,188.76 450.00,188.77 450.20,188.71 450.40,188.57 450.60,188.56 450.80,188.49 451.00,188.47 451.20,188.32 451.40,188.22 451.60,188.05 451.80,187.78 452.00,187.54 452.20,187.21 452.40,186.87 452.60,186.33 452.80,185.97 453.00,185.61 453.20,185.46 453.40,185.43 453.60,185.60 453.80,185.91 454.00,186.16 454.20,186.38 454.40,186.50 454.60,186.58 454.80,186.70 455.00,186.70 455.20,186.61 455.40,186.45 455.60,186.20 455.80,185.86 456.00,185.31 456.20,184.87 456.40,184.48 456.60,184.22 456.80,183.99 457.00,183.95 457.20,184.12 457.40,184.43 457.60,184.73 457.80,184.92 458.00,184.95 458.20,184.92 458.40,184.74 458.60,184.39 458.80,183.98 459.00,183.55 459.20,183.27 459.40,183.02 459.60,182.93 459.80,182.85 460.00,182.87 460.20,182.57 460.40,182.21 460.60,181.51 460.80,180.85 461.00,179.86 461.20,178.77 461.40,177.73 461.60,177.17 461.80,177.27 462.00,177.94 462.20,178.95 462.40,180.04 462.60,181.14 462.80,182.18 463.00,182.93 463.20,183.54 463.40,183.98 463.60,184.32 463.80,184.40 464.00,184.37 464.20,184.31 464.40,184.41 464.60,184.66 464.80,185.14 465.00,185.43 465.20,185.81 465.40,186.21 465.60,186.62 465.80,186.88 466.00,187.07 466.20,187.23 466.40,187.36 466.60,187.34 466.80,187.29 467.00,187.30 467.20,187.30 467.40,187.47 467.60,187.59 467.80,187.67 468.00,187.64 468.20,187.63 468.40,187.72 468.60,187.94 468.80,187.98 469.00,188.06 469.20,188.04 469.40,188.32 469.60,188.54 469.80,188.77 470.00,188.82 470.20,188.92 470.40,189.03 470.60,189.17 470.80,189.28 471.00,189.51 471.20,189.64 471.40,189.71 471.60,189.66 471.80,189.79 472.00,189.93 472.20,190.05 472.40,190.08 472.60,190.21 472.80,190.17 473.00,190.13 473.20,189.98 473.40,190.13 473.60,190.20 473.80,190.31 474.00,190.28 474.20,190.38 474.40,190.45 474.60,190.51 474.80,190.58 475.00,190.56 475.20,190.55 475.40,190.67 475.60,190.74 475.80,190.82 476.00,190.66 476.20,190.70 476.40,190.81 476.60,190.94 476.80,191.01 477.00,190.98 477.20,190.87 477.40,190.89 477.60,191.02 477.80,191.21 478.00,191.21 478.20,191.20 478.40,191.14 478.60,191.18 478.80,191.08 479.00,191.11 479.20,191.15 479.40,191.25 479.60,191.34 479.80,191.47 480.00,191.59 480.20,191.53 480.40,191.38 480.60,191.26 480.80,191.23 481.00,191.28 481.20,191.35 481.40,191.42 481.60,191.43 481.80,191.42 482.00,191.41 482.20,191.35 482.40,191.45 482.60,191.52 482.80,191.52 483.00,191.36 483.20,191.27 483.40,191.33 483.60,191.46 483.80,191.56 484.00,191.62 484.20,191.62 484.40,191.63 484.60,191.61 484.80,191.57 485.00,191.50 485.20,191.36 485.40,191.32 485.60,191.44 485.80,191.52 486.00,191.49 486.20,191.44 486.40,191.48 486.60,191.50 486.80,191.53 487.00,191.56 487.20,191.64 487.40,191.52 487.60,191.51 487.80,191.49 488.00,191.57 488.20,191.61 488.40,191.66 488.60,191.63 488.80,191.60 489.00,191.47 489.20,191.50 489.40,191.50 489.60,191.55 489.80,191.46 490.00,191.42 490.20,191.37 490.40,191.44 490.60,191.47 490.80,191.48 491.00,191.47 491.20,191.52 491.40,191.64 491.60,191.70 491.80,191.63 492.00,191.54 492.20,191.46 492.40,191.51 492.60,191.67 492.80,191.78 493.00,191.84 493.20,191.78 493.40,191.60 493.60,191.50 493.80,191.39 494.00,191.57 494.20,191.68 494.40,191.67 494.60,191.60 494.80,191.53 495.00,191.54 495.20,191.51 495.40,191.43 495.60,191.52 495.80,191.50 496.00,191.61 496.20,191.57 496.40,191.67 496.60,191.69 496.80,191.65 497.00,191.56 497.20,191.49 497.40,191.47 497.60,191.48 497.80,191.45 498.00,191.52 498.20,191.49 498.40,191.48 498.60,191.50 498.80,191.66 499.00,191.57 499.20,191.61 499.40,191.58 499.60,191.64 499.80,191.47 500.00,191.45 500.20,191.49 500.40,191.59 500.60,191.61 500.80,191.62 501.00,191.62 501.20,191.60 501.40,191.68 501.60,191.77 501.80,191.85 502.00,191.81 502.20,191.69 502.40,191.73 502.60,191.76 502.80,191.80 503.00,191.59 503.20,191.60 503.40,191.53 503.60,191.57 503.80,191.45 504.00,191.46 504.20,191.50 504.40,191.49 504.60,191.47 504.80,191.46 505.00,191.48 505.20,191.46 505.40,191.41 505.60,191.40 505.80,191.52 506.00,191.51 506.20,191.64 506.40,191.66 506.60,191.65 506.80,191.61 507.00,191.52 507.20,191.53 507.40,191.51 507.60,191.52 507.80,191.63 508.00,191.72 508.20,191.67 508.40,191.60 508.60,191.57 508.80,191.71 509.00,191.59 509.20,191.64 509.40,191.56 509.60,191.80 509.80,191.70 510.00,191.66 510.20,191.57 510.40,191.67 510.60,191.72 510.80,191.58 511.00,191.55 511.20,191.45 511.40,191.54 511.60,191.43 511.80,191.41 512.00,191.40 512.20,191.41 512.40,191.48 512.60,191.56 512.80,191.60 513.00,191.55 513.20,191.54 513.40,191.62 513.60,191.77 513.80,191.79 514.00,191.77 514.20,191.76 514.40,191.84 514.60,191.91 514.80,191.83 515.00,191.74 515.20,191.73 515.40,191.84 515.60,191.95 515.80,191.72 516.00,191.62 516.20,191.33 516.40,191.51 516.60,191.53 516.80,191.73 517.00,191.68 517.20,191.76 517.40,191.74 517.60,191.81 517.80,191.77 518.00,191.81 518.20,191.77 518.40,191.75 518.60,191.66 518.80,191.68 519.00,191.71 519.20,191.77 519.40,191.78 519.60,191.79 519.80,191.72 520.00,191.67 520.20,191.59 520.40,191.61 520.60,191.64 520.80,191.62 521.00,191.65 521.20,191.65 521.40,191.72 521.60,191.77 521.80,191.89 522.00,191.84 522.20,191.83 522.40,191.63 522.60,191.69 522.80,191.74 523.00,191.89 523.20,191.82 523.40,191.74 523.60,191.74 523.80,191.78 524.00,191.85 524.20,191.72 524.40,191.81 524.60,191.81 524.80,191.90 525.00,191.77 525.20,191.70 525.40,191.68 525.60,191.75 525.80,191.75 526.00,191.73 526.20,191.73 526.40,191.82 526.60,191.71 526.80,191.62 527.00,191.45 527.20,191.53 527.40,191.51 527.60,191.63 527.80,191.68 528.00,191.77 528.20,191.70 528.40,191.70 528.60,191.73 528.80,191.79 529.00,191.74 529.20,191.77 529.40,191.66 529.60,191.78 529.80,191.56 530.00,191.61 530.20,191.47 530.40,191.70 530.60,191.65 530.80,191.83 531.00,191.69 531.20,191.90 531.40,191.82 531.60,191.92 531.80,191.82 532.00,191.93 532.20,191.98 532.40,191.82 532.60,191.76 532.80,191.73 533.00,191.76 533.20,191.74 533.40,191.65 533.60,191.76 533.80,191.73 534.00,191.77 534.20,191.80 534.40,191.72 534.60,191.77 534.80,191.70 535.00,191.75 535.20,191.86 535.40,191.90 535.60,191.85" fill="none" stroke="#404040" stroke-width="0.68" stroke-linejoin="round"/>
<rect x="296.5" y="21.6" width="239.0" height="170.8" fill="none" stroke="#5fbcbc" stroke-width="0.9"/>
<line x1="313.32" y1="192.4" x2="313.32" y2="193.8" stroke="#5fbcbc" stroke-width="0.7" opacity="0.8"/>
<line x1="330.35" y1="192.4" x2="330.35" y2="194.6" stroke="#5fbcbc" stroke-width="0.7" opacity="0.8"/>
<line x1="347.37" y1="192.4" x2="347.37" y2="193.8" stroke="#5fbcbc" stroke-width="0.7" opacity="0.8"/>
<line x1="364.39" y1="192.4" x2="364.39" y2="194.6" stroke="#5fbcbc" stroke-width="0.7" opacity="0.8"/>
<line x1="381.41" y1="192.4" x2="381.41" y2="193.8" stroke="#5fbcbc" stroke-width="0.7" opacity="0.8"/>
<line x1="398.44" y1="192.4" x2="398.44" y2="194.6" stroke="#5fbcbc" stroke-width="0.7" opacity="0.8"/>
<line x1="415.46" y1="192.4" x2="415.46" y2="193.8" stroke="#5fbcbc" stroke-width="0.7" opacity="0.8"/>
<line x1="432.48" y1="192.4" x2="432.48" y2="194.6" stroke="#5fbcbc" stroke-width="0.7" opacity="0.8"/>
<line x1="449.50" y1="192.4" x2="449.50" y2="193.8" stroke="#5fbcbc" stroke-width="0.7" opacity="0.8"/>
<line x1="466.52" y1="192.4" x2="466.52" y2="194.6" stroke="#5fbcbc" stroke-width="0.7" opacity="0.8"/>
<line x1="483.55" y1="192.4" x2="483.55" y2="193.8" stroke="#5fbcbc" stroke-width="0.7" opacity="0.8"/>
<line x1="500.57" y1="192.4" x2="500.57" y2="194.6" stroke="#5fbcbc" stroke-width="0.7" opacity="0.8"/>
<line x1="517.59" y1="192.4" x2="517.59" y2="193.8" stroke="#5fbcbc" stroke-width="0.7" opacity="0.8"/>
<line x1="534.62" y1="192.4" x2="534.62" y2="194.6" stroke="#5fbcbc" stroke-width="0.7" opacity="0.8"/>
<text class="tk" x="329.4" y="202.6" text-anchor="middle" textLength="17.2" lengthAdjust="spacingAndGlyphs">1000</text>
<text class="tk" x="363.5" y="202.6" text-anchor="middle" textLength="17.2" lengthAdjust="spacingAndGlyphs">1500</text>
<text class="tk" x="397.5" y="202.6" text-anchor="middle" textLength="17.2" lengthAdjust="spacingAndGlyphs">2000</text>
<text class="tk" x="431.6" y="202.6" text-anchor="middle" textLength="17.2" lengthAdjust="spacingAndGlyphs">2500</text>
<text class="tk" x="465.6" y="202.6" text-anchor="middle" textLength="17.2" lengthAdjust="spacingAndGlyphs">3000</text>
<text class="tk" x="499.7" y="202.6" text-anchor="middle" textLength="17.2" lengthAdjust="spacingAndGlyphs">3500</text>
<text class="tk" x="533.7" y="202.6" text-anchor="middle" textLength="17.2" lengthAdjust="spacingAndGlyphs">4000</text>
<text class="ax" x="423.2" y="211.6" text-anchor="middle" textLength="71" lengthAdjust="spacingAndGlyphs">Raman shift (cm<tspan font-size="4.4" dy="-2.4">-1</tspan><tspan dy="2.4">)</tspan></text>
<text class="ax" transform="translate(289.6,106.2) rotate(-90)" text-anchor="middle" textLength="61" lengthAdjust="spacingAndGlyphs">Raman intensity</text>
<text class="ar" x="500.6" y="64.0" textLength="26.8" lengthAdjust="spacingAndGlyphs">Area 1</text>
<text class="ar" x="499.0" y="128.7" textLength="26.6" lengthAdjust="spacingAndGlyphs">Area 2</text>
<text class="ar" x="502.6" y="185.0" textLength="9.9" lengthAdjust="spacingAndGlyphs" style="font-size:8.4px">LV</text><text class="ar" x="513.1" y="186.7" textLength="9.4" lengthAdjust="spacingAndGlyphs" style="font-size:5px">0.5</text>
<rect x="367.8" y="220.6" width="12.0" height="181.9" fill="#edf0fa"/>
<path d="M296.40,280.86 296.60,280.33 296.80,281.10 297.00,280.51 297.20,280.38 297.40,278.43 297.60,277.07 297.80,275.12 298.00,272.65 298.20,268.75 298.40,262.78 298.60,257.40 298.80,258.08 299.00,264.40 299.20,270.01 299.40,274.01 299.60,276.41 299.80,277.74 300.00,277.96 300.20,277.96 300.40,279.18 300.60,279.51 300.80,279.57 301.00,279.40 301.20,279.33 301.40,279.23 301.60,278.77 301.80,278.60 302.00,277.49 302.20,276.50 302.40,276.38 302.60,276.63 302.80,277.60 303.00,277.60 303.20,278.38 303.40,278.25 303.60,277.78 303.80,277.51 304.00,277.07 304.20,277.71 304.40,278.38 304.60,278.56 304.80,278.38 305.00,277.09 305.20,276.84 305.40,276.48 305.60,276.72 305.80,276.62 306.00,276.65 306.20,276.19 306.40,275.74 306.60,274.70 306.80,275.13 307.00,275.38 307.20,275.67 307.40,275.86 307.60,275.82 307.80,276.83 308.00,276.93 308.20,277.20 308.40,277.42 308.60,277.19 308.80,277.01 309.00,276.40 309.20,276.41 309.40,276.14 309.60,276.20 309.80,276.18 310.00,276.13 310.20,275.26 310.40,275.30 310.60,275.64 310.80,276.11 311.00,275.65 311.20,275.41 311.40,274.93 311.60,275.05 311.80,274.55 312.00,274.37 312.20,274.05 312.40,274.13 312.60,274.63 312.80,275.21 313.00,275.39 313.20,275.45 313.40,275.38 313.60,275.59 313.80,274.95 314.00,273.61 314.20,273.17 314.40,272.18 314.60,271.25 314.80,269.64 315.00,270.50 315.20,271.07 315.40,272.15 315.60,272.17 315.80,273.41 316.00,273.29 316.20,273.51 316.40,273.30 316.60,274.27 316.80,274.21 317.00,274.21 317.20,273.65 317.40,274.05 317.60,274.22 317.80,274.11 318.00,273.84 318.20,272.93 318.40,272.92 318.60,272.24 318.80,272.31 319.00,272.29 319.20,272.93 319.40,272.89 319.60,272.48 319.80,271.84 320.00,272.28 320.20,272.52 320.40,273.14 320.60,273.53 320.80,273.87 321.00,273.47 321.20,273.24 321.40,272.80 321.60,272.33 321.80,272.40 322.00,273.17 322.20,274.08 322.40,273.48 322.60,271.60 322.80,270.73 323.00,270.81 323.20,271.52 323.40,272.02 323.60,271.52 323.80,271.92 324.00,271.72 324.20,272.23 324.40,271.75 324.60,271.73 324.80,271.78 325.00,272.12 325.20,271.73 325.40,271.47 325.60,271.25 325.80,271.74 326.00,272.15 326.20,272.48 326.40,272.38 326.60,271.88 326.80,271.67 327.00,270.72 327.20,270.60 327.40,270.66 327.60,271.06 327.80,271.30 328.00,270.61 328.20,270.86 328.40,270.61 328.60,271.24 328.80,271.22 329.00,271.91 329.20,270.59 329.40,269.90 329.60,268.73 329.80,269.52 330.00,269.52 330.20,269.33 330.40,268.72 330.60,268.49 330.80,268.42 331.00,269.35 331.20,269.36 331.40,270.27 331.60,269.73 331.80,269.34 332.00,267.95 332.20,266.92 332.40,265.33 332.60,263.05 332.80,261.87 333.00,261.37 333.20,262.65 333.40,263.62 333.60,264.77 333.80,265.90 334.00,266.77 334.20,268.38 334.40,268.61 334.60,268.87 334.80,268.75 335.00,268.75 335.20,269.09 335.40,269.16 335.60,269.55 335.80,268.95 336.00,268.92 336.20,268.16 336.40,267.98 336.60,268.06 336.80,268.37 337.00,268.45 337.20,268.09 337.40,267.48 337.60,267.39 337.80,267.09 338.00,266.94 338.20,265.78 338.40,265.27 338.60,264.56 338.80,263.92 339.00,263.11 339.20,263.02 339.40,263.63 339.60,264.01 339.80,264.89 340.00,266.02 340.20,267.14 340.40,267.50 340.60,267.70 340.80,267.54 341.00,267.01 341.20,266.18 341.40,265.91 341.60,266.49 341.80,267.27 342.00,266.97 342.20,266.33 342.40,266.76 342.60,267.17 342.80,268.09 343.00,267.37 343.20,266.84 343.40,266.71 343.60,266.48 343.80,266.91 344.00,266.10 344.20,265.13 344.40,264.41 344.60,264.69 344.80,265.21 345.00,265.77 345.20,266.22 345.40,266.33 345.60,266.34 345.80,266.13 346.00,266.87 346.20,266.94 346.40,266.59 346.60,266.36 346.80,266.09 347.00,266.38 347.20,266.29 347.40,266.44 347.60,266.59 347.80,266.84 348.00,266.45 348.20,266.27 348.40,265.74 348.60,265.94 348.80,265.64 349.00,265.86 349.20,265.66 349.40,265.20 349.60,264.01 349.80,263.41 350.00,262.68 350.20,261.60 350.40,259.70 350.60,256.98 350.80,254.10 351.00,252.08 351.20,254.41 351.40,257.71 351.60,260.74 351.80,261.92 352.00,262.54 352.20,262.49 352.40,262.37 352.60,262.17 352.80,261.93 353.00,261.60 353.20,260.86 353.40,258.84 353.60,255.23 353.80,248.89 354.00,240.10 354.20,232.02 354.40,232.16 354.60,240.64 354.80,249.08 355.00,254.18 355.20,257.11 355.40,258.22 355.60,258.73 355.80,258.28 356.00,256.87 356.20,255.02 356.40,250.40 356.60,242.82 356.80,232.40 357.00,223.38 357.20,224.50 357.40,234.05 357.60,244.02 357.80,250.34 358.00,254.89 358.20,256.90 358.40,258.05 358.60,258.57 358.80,258.12 359.00,256.88 359.20,254.63 359.40,251.19 359.60,244.41 359.80,234.14 360.00,220.90 360.20,220.90 360.40,221.11 360.60,235.85 360.80,246.88 361.00,254.27 361.20,258.08 361.40,261.17 361.60,262.44 361.80,263.89 362.00,264.58 362.20,265.54 362.40,266.29 362.60,267.34 362.80,268.25 363.00,268.43 363.20,268.64 363.40,268.41 363.60,268.83 363.80,268.94 364.00,269.39 364.20,269.29 364.40,269.20 364.60,269.00 364.80,268.86 365.00,268.76 365.20,267.80 365.40,267.35 365.60,265.72 365.80,263.83 366.00,259.36 366.20,255.46 366.40,255.34 366.60,259.77 366.80,264.14 367.00,267.51 367.20,269.13 367.40,269.49 367.60,269.63 367.80,270.07 368.00,271.21 368.20,271.38 368.40,271.69 368.60,271.80 368.80,272.22 369.00,272.32 369.20,273.04 369.40,273.20 369.60,273.78 369.80,272.97 370.00,272.46 370.20,271.56 370.40,270.66 370.60,269.81 370.80,267.34 371.00,265.09 371.20,260.97 371.40,255.58 371.60,245.45 371.80,232.77 372.00,225.21 372.20,232.41 372.40,245.49 372.60,255.97 372.80,263.29 373.00,267.67 373.20,271.01 373.40,272.82 373.60,274.39 373.80,275.35 374.00,275.87 374.20,276.70 374.40,277.22 374.60,277.68 374.80,277.82 375.00,277.85 375.20,277.77 375.40,277.72 375.60,278.08 375.80,278.75 376.00,278.77 376.20,278.63 376.40,278.02 376.60,278.37 376.80,278.94 377.00,279.19 377.20,279.34 377.40,278.34 377.60,278.40 377.80,278.44 378.00,278.91 378.20,278.37 378.40,278.22 378.60,278.15 378.80,278.88 379.00,278.12 379.20,277.52 379.40,276.17 379.60,275.78 379.80,275.06 380.00,275.93 380.20,276.81 380.40,278.10 380.60,278.30 380.80,278.84 381.00,279.46 381.20,279.79 381.40,279.86 381.60,280.07 381.80,280.25 382.00,280.36 382.20,280.26 382.40,280.40 382.60,280.22 382.80,280.16 383.00,280.47 383.20,281.16 383.40,281.48 383.60,280.35 383.80,279.71 384.00,279.89 384.20,281.52 384.40,282.38 384.60,282.23 384.80,281.65 385.00,281.20 385.20,281.82 385.40,282.03 385.60,281.92 385.80,281.72 386.00,281.93 386.20,281.63 386.40,281.19 386.60,281.27 386.80,282.19 387.00,282.03 387.20,281.72 387.40,281.71 387.60,282.18 387.80,281.85 388.00,281.53 388.20,281.62 388.40,282.07 388.60,281.83 388.80,282.32 389.00,282.24 389.20,282.07 389.40,281.26 389.60,280.36 389.80,280.60 390.00,280.68 390.20,282.21 390.40,282.46 390.60,282.57 390.80,282.07 391.00,282.07 391.20,281.77 391.40,281.94 391.60,282.02 391.80,282.65 392.00,282.54 392.20,282.10 392.40,281.49 392.60,281.06 392.80,281.21 393.00,281.47 393.20,281.53 393.40,281.40 393.60,281.69 393.80,282.13 394.00,282.37 394.20,281.61 394.40,281.01 394.60,280.77 394.80,280.81 395.00,280.69 395.20,280.98 395.40,281.32 395.60,281.72 395.80,281.36 396.00,281.35 396.20,281.80 396.40,282.14 396.60,281.92 396.80,282.13 397.00,282.14 397.20,282.06 397.40,281.50 397.60,281.19 397.80,281.26 398.00,281.28 398.20,281.30 398.40,280.96 398.60,280.86 398.80,281.27 399.00,281.29 399.20,280.97 399.40,281.04 399.60,281.50 399.80,281.84 400.00,281.48 400.20,281.20 400.40,280.78 400.60,280.72 400.80,280.94 401.00,280.31 401.20,279.83 401.40,279.77 401.60,280.73 401.80,281.09 402.00,281.07 402.20,280.55 402.40,280.33 402.60,280.37 402.80,280.64 403.00,280.88 403.20,280.45 403.40,280.48 403.60,280.59 403.80,280.88 404.00,280.81 404.20,280.71 404.40,280.91 404.60,281.05 404.80,281.64 405.00,281.87 405.20,281.73 405.40,280.87 405.60,280.63 405.80,280.46 406.00,281.22 406.20,280.61 406.40,280.64 406.60,280.63 406.80,281.03 407.00,281.34 407.20,281.08 407.40,280.93 407.60,280.94 407.80,280.50 408.00,280.54 408.20,280.87 408.40,281.05 408.60,281.23 408.80,280.33 409.00,280.74 409.20,280.37 409.40,280.44 409.60,279.90 409.80,279.88 410.00,279.68 410.20,279.75 410.40,279.86 410.60,280.20 410.80,280.00 411.00,279.87 411.20,279.80 411.40,280.05 411.60,280.03 411.80,280.09 412.00,280.01 412.20,280.53 412.40,280.69 412.60,280.88 412.80,280.85 413.00,280.49 413.20,280.70 413.40,280.47 413.60,280.49 413.80,280.22 414.00,279.86 414.20,280.45 414.40,280.38 414.60,280.25 414.80,279.45 415.00,279.21 415.20,279.39 415.40,279.70 415.60,279.86 415.80,279.86 416.00,279.50 416.20,279.38 416.40,279.79 416.60,280.14 416.80,279.96 417.00,279.56 417.20,279.16 417.40,279.47 417.60,279.88 417.80,280.08 418.00,280.29 418.20,279.70 418.40,279.04 418.60,278.78 418.80,278.87 419.00,279.15 419.20,278.83 419.40,278.64 419.60,278.75 419.80,279.36 420.00,279.60 420.20,279.64 420.40,279.53 420.60,279.64 420.80,279.99 421.00,279.80 421.20,279.86 421.40,279.22 421.60,279.71 421.80,279.83 422.00,280.40 422.20,280.13 422.40,279.91 422.60,279.33 422.80,279.37 423.00,279.74 423.20,279.36 423.40,279.71 423.60,279.16 423.80,279.95 424.00,279.31 424.20,279.47 424.40,279.54 424.60,279.69 424.80,280.16 425.00,279.96 425.20,280.16 425.40,279.55 425.60,279.41 425.80,279.14 426.00,279.41 426.20,279.92 426.40,280.01 426.60,279.56 426.80,278.98 427.00,278.61 427.20,278.99 427.40,279.06 427.60,278.97 427.80,278.42 428.00,278.33 428.20,278.99 428.40,279.27 428.60,279.37 428.80,279.43 429.00,279.46 429.20,279.34 429.40,279.70 429.60,279.57 429.80,279.77 430.00,279.29 430.20,279.69 430.40,279.54 430.60,279.63 430.80,279.44 431.00,279.34 431.20,279.42 431.40,279.56 431.60,279.21 431.80,279.15 432.00,279.34 432.20,279.88 432.40,279.81 432.60,279.08 432.80,279.00 433.00,279.09 433.20,279.84 433.40,279.47 433.60,279.26 433.80,278.79 434.00,278.94 434.20,278.58 434.40,278.59 434.60,278.54 434.80,278.84 435.00,279.29 435.20,279.23 435.40,279.20 435.60,279.08 435.80,279.08 436.00,279.43 436.20,279.26 436.40,279.23 436.60,278.77 436.80,278.68 437.00,278.74 437.20,278.89 437.40,278.68 437.60,278.81 437.80,278.57 438.00,278.51 438.20,278.22 438.40,277.94 438.60,277.76 438.80,277.47 439.00,277.05 439.20,276.30 439.40,276.30 439.60,276.55 439.80,277.21 440.00,277.21 440.20,277.97 440.40,278.23 440.60,278.17 440.80,278.06 441.00,277.99 441.20,278.53 441.40,278.45 441.60,278.96 441.80,279.00 442.00,278.96 442.20,279.00 442.40,279.49 442.60,279.46 442.80,279.39 443.00,278.88 443.20,279.09 443.40,278.59 443.60,278.30 443.80,278.50 444.00,278.78 444.20,278.87 444.40,278.94 444.60,279.16 444.80,279.42 445.00,278.82 445.20,278.55 445.40,278.69 445.60,278.46 445.80,278.12 446.00,277.63 446.20,278.25 446.40,278.62 446.60,278.87 446.80,278.69 447.00,278.65 447.20,278.79 447.40,279.48 447.60,279.54 447.80,279.55 448.00,278.70 448.20,278.91 448.40,278.65 448.60,278.76 448.80,278.32 449.00,278.13 449.20,277.96 449.40,277.84 449.60,277.71 449.80,278.17 450.00,278.43 450.20,278.87 450.40,278.57 450.60,278.16 450.80,277.93 451.00,277.61 451.20,277.69 451.40,277.61 451.60,277.76 451.80,277.86 452.00,277.82 452.20,277.61 452.40,277.44 452.60,277.46 452.80,277.67 453.00,277.49 453.20,276.70 453.40,275.78 453.60,275.31 453.80,275.51 454.00,276.01 454.20,276.53 454.40,276.80 454.60,276.75 454.80,276.32 455.00,276.43 455.20,276.46 455.40,276.31 455.60,275.72 455.80,275.13 456.00,275.05 456.20,275.58 456.40,276.02 456.60,277.00 456.80,276.98 457.00,277.15 457.20,276.86 457.40,277.43 457.60,277.57 457.80,277.62 458.00,276.66 458.20,276.66 458.40,276.10 458.60,276.23 458.80,276.11 459.00,276.19 459.20,276.44 459.40,276.38 459.60,276.61 459.80,276.71 460.00,277.06 460.20,277.19 460.40,277.14 460.60,276.72 460.80,276.32 461.00,276.22 461.20,276.19 461.40,276.32 461.60,276.19 461.80,276.00 462.00,275.34 462.20,274.71 462.40,274.16 462.60,273.99 462.80,273.53 463.00,273.61 463.20,274.07 463.40,275.08 463.60,275.60 463.80,275.73 464.00,276.12 464.20,276.38 464.40,276.70 464.60,276.66 464.80,276.85 465.00,276.94 465.20,276.80 465.40,276.60 465.60,276.72 465.80,276.69 466.00,276.72 466.20,276.08 466.40,275.93 466.60,275.89 466.80,276.43 467.00,276.56 467.20,276.91 467.40,277.58 467.60,278.23 467.80,278.43 468.00,278.22 468.20,278.10 468.40,278.37 468.60,278.49 468.80,278.77 469.00,278.99 469.20,279.38 469.40,279.65 469.60,279.32 469.80,279.17 470.00,279.35 470.20,279.52 470.40,279.91 470.60,279.80 470.80,280.24 471.00,280.05 471.20,279.94 471.40,279.70 471.60,280.09 471.80,280.32 472.00,280.36 472.20,280.31 472.40,280.17 472.60,280.40 472.80,280.38 473.00,280.74 473.20,280.89 473.40,280.87 473.60,280.47 473.80,280.50 474.00,280.56 474.20,280.99 474.40,281.08 474.60,281.27 474.80,281.39 475.00,281.62 475.20,281.91 475.40,281.97 475.60,281.72 475.80,281.20 476.00,281.30 476.20,281.12 476.40,281.66 476.60,281.78 476.80,282.04 477.00,281.93 477.20,281.68 477.40,281.64 477.60,281.70 477.80,281.73 478.00,282.01 478.20,281.91 478.40,282.39 478.60,282.43 478.80,282.71 479.00,282.60 479.20,282.42 479.40,281.97 479.60,281.48 479.80,281.61 480.00,281.35 480.20,281.56 480.40,281.16 480.60,281.51 480.80,281.76 481.00,282.02 481.20,282.03 481.40,281.84 481.60,282.03 481.80,281.87 482.00,281.97 482.20,281.91 482.40,281.98 482.60,281.80 482.80,282.02 483.00,282.30 483.20,282.53 483.40,282.20 483.60,282.02 483.80,281.74 484.00,281.59 484.20,281.57 484.40,281.69 484.60,281.77 484.80,281.65 485.00,281.80 485.20,281.93 485.40,281.87 485.60,282.15 485.80,281.94 486.00,282.23 486.20,281.73 486.40,282.13 486.60,282.10 486.80,282.43 487.00,282.31 487.20,282.18 487.40,282.25 487.60,282.25 487.80,282.34 488.00,282.08 488.20,281.97 488.40,282.06 488.60,282.36 488.80,282.72 489.00,282.71 489.20,282.54 489.40,282.42 489.60,282.27 489.80,282.41 490.00,282.33 490.20,282.14 490.40,281.99 490.60,281.81 490.80,282.15 491.00,282.16 491.20,282.25 491.40,282.25 491.60,282.36 491.80,282.19 492.00,281.84 492.20,281.60 492.40,281.78 492.60,282.42 492.80,282.60 493.00,282.72 493.20,282.37 493.40,281.90 493.60,281.60 493.80,281.57 494.00,281.91 494.20,282.05 494.40,282.12 494.60,282.20 494.80,282.16 495.00,282.07 495.20,281.80 495.40,282.11 495.60,281.85 495.80,282.10 496.00,282.03 496.20,282.03 496.40,281.85 496.60,281.90 496.80,282.08 497.00,282.07 497.20,281.88 497.40,282.24 497.60,282.43 497.80,282.32 498.00,281.89 498.20,281.55 498.40,281.70 498.60,281.57 498.80,281.71 499.00,281.75 499.20,281.89 499.40,281.91 499.60,281.78 499.80,282.06 500.00,281.84 500.20,281.78 500.40,281.48 500.60,281.36 500.80,280.37 501.00,279.78 501.20,280.31 501.40,281.27 501.60,281.41 501.80,282.02 502.00,282.14 502.20,282.66 502.40,282.29 502.60,282.26 502.80,282.17 503.00,282.22 503.20,282.34 503.40,282.30 503.60,282.30 503.80,282.13 504.00,281.91 504.20,282.13 504.40,282.31 504.60,282.56 504.80,282.36 505.00,282.22 505.20,281.84 505.40,281.83 505.60,281.81 505.80,281.97 506.00,281.87 506.20,281.85 506.40,281.83 506.60,282.13 506.80,282.19 507.00,282.15 507.20,282.16 507.40,282.42 507.60,282.46 507.80,282.26 508.00,281.77 508.20,281.57 508.40,281.60 508.60,282.11 508.80,282.64 509.00,282.77 509.20,282.48 509.40,282.27 509.60,281.92 509.80,281.98 510.00,281.71 510.20,281.95 510.40,282.18 510.60,282.71 510.80,282.74 511.00,282.58 511.20,281.98 511.40,281.85 511.60,282.02 511.80,282.46 512.00,282.69 512.20,282.53 512.40,282.60 512.60,282.43 512.80,282.33 513.00,282.51 513.20,282.42 513.40,282.52 513.60,282.02 513.80,282.39 514.00,282.28 514.20,282.28 514.40,282.00 514.60,282.17 514.80,282.07 515.00,281.89 515.20,281.74 515.40,281.84 515.60,282.16 515.80,282.12 516.00,282.08 516.20,282.04 516.40,282.16 516.60,282.42 516.80,282.38 517.00,282.03 517.20,281.87 517.40,281.86 517.60,282.13 517.80,282.21 518.00,282.17 518.20,282.36 518.40,282.23 518.60,282.49 518.80,282.15 519.00,281.83 519.20,281.46 519.40,282.07 519.60,282.40 519.80,282.53 520.00,282.13 520.20,282.10 520.40,282.16 520.60,282.14 520.80,282.52 521.00,282.67 521.20,282.69 521.40,282.48 521.60,282.39 521.80,282.18 522.00,282.24 522.20,282.05 522.40,282.34 522.60,282.19 522.80,282.42 523.00,282.52 523.20,282.58 523.40,282.37 523.60,282.09 523.80,282.08 524.00,282.08 524.20,282.06 524.40,281.93 524.60,281.91 524.80,282.01 525.00,281.87 525.20,281.79 525.40,281.28 525.60,280.42 525.80,279.91 526.00,280.79 526.20,281.64 526.40,281.96 526.60,282.01 526.80,281.99 527.00,282.10 527.20,281.78 527.40,281.97 527.60,281.91 527.80,282.06 528.00,282.32 528.20,282.12 528.40,282.49 528.60,282.22 528.80,282.42 529.00,282.22 529.20,282.61 529.40,282.57 529.60,282.74 529.80,282.49 530.00,282.46 530.20,282.27 530.40,282.22 530.60,282.35 530.80,282.52 531.00,282.55 531.20,282.38 531.40,282.35 531.60,282.12 531.80,282.14 532.00,281.72 532.20,281.77 532.40,281.75 532.60,281.85 532.80,281.78 533.00,281.94 533.20,282.23 533.40,282.57 533.60,282.61 533.80,282.63 534.00,282.59 534.20,282.46 534.40,282.56 534.60,282.21 534.80,282.14 535.00,282.10 535.20,282.46 535.40,282.49 535.60,282.29" fill="none" stroke="#3264f0" stroke-width="0.75" stroke-linejoin="round"/>
<path d="M296.40,339.12 296.60,338.12 296.80,337.87 297.00,338.54 297.20,338.08 297.40,337.00 297.60,335.55 297.80,334.75 298.00,332.43 298.20,328.27 298.40,322.17 298.60,317.01 298.80,317.27 299.00,323.06 299.20,327.49 299.40,331.53 299.60,333.75 299.80,336.14 300.00,337.14 300.20,338.13 300.40,338.26 300.60,338.16 300.80,337.99 301.00,337.81 301.20,337.39 301.40,336.42 301.60,335.81 301.80,335.44 302.00,336.01 302.20,335.69 302.40,335.65 302.60,335.15 302.80,336.31 303.00,336.16 303.20,337.44 303.40,337.25 303.60,337.46 303.80,336.65 304.00,335.92 304.20,336.09 304.40,335.83 304.60,336.50 304.80,336.13 305.00,335.14 305.20,333.86 305.40,333.42 305.60,333.47 305.80,334.08 306.00,333.29 306.20,333.19 306.40,332.35 306.60,333.13 306.80,333.32 307.00,333.93 307.20,333.56 307.40,334.01 307.60,334.42 307.80,334.87 308.00,335.06 308.20,334.52 308.40,334.47 308.60,334.32 308.80,334.48 309.00,334.84 309.20,334.77 309.40,334.49 309.60,333.54 309.80,333.04 310.00,332.63 310.20,332.32 310.40,331.36 310.60,331.18 310.80,330.76 311.00,330.92 311.20,331.04 311.40,330.63 311.60,331.00 311.80,331.04 312.00,332.29 312.20,332.61 312.40,332.94 312.60,333.15 312.80,332.33 313.00,331.71 313.20,331.54 313.40,332.42 313.60,332.23 313.80,331.85 314.00,331.25 314.20,330.63 314.40,329.73 314.60,329.45 314.80,330.02 315.00,331.05 315.20,331.40 315.40,331.90 315.60,331.21 315.80,330.66 316.00,330.17 316.20,330.80 316.40,331.71 316.60,331.51 316.80,330.82 317.00,329.15 317.20,329.50 317.40,328.70 317.60,329.23 317.80,328.50 318.00,327.66 318.20,326.34 318.40,325.82 318.60,326.93 318.80,327.67 319.00,327.81 319.20,328.09 319.40,329.14 319.60,329.46 319.80,329.32 320.00,329.44 320.20,329.97 320.40,330.01 320.60,329.66 320.80,329.76 321.00,330.34 321.20,330.41 321.40,330.20 321.60,329.25 321.80,329.25 322.00,329.32 322.20,329.82 322.40,329.50 322.60,329.19 322.80,329.19 323.00,328.79 323.20,328.06 323.40,327.83 323.60,327.77 323.80,328.17 324.00,328.19 324.20,328.40 324.40,328.59 324.60,328.15 324.80,328.69 325.00,328.28 325.20,329.04 325.40,328.16 325.60,328.30 325.80,327.64 326.00,328.23 326.20,328.38 326.40,328.19 326.60,327.28 326.80,327.26 327.00,327.09 327.20,327.29 327.40,326.64 327.60,326.39 327.80,326.58 328.00,326.93 328.20,327.64 328.40,327.61 328.60,327.12 328.80,326.99 329.00,326.90 329.20,327.18 329.40,325.78 329.60,325.27 329.80,325.15 330.00,325.67 330.20,325.80 330.40,325.83 330.60,326.02 330.80,325.67 331.00,325.61 331.20,325.66 331.40,325.71 331.60,324.68 331.80,323.76 332.00,323.53 332.20,323.30 332.40,322.15 332.60,320.71 332.80,319.81 333.00,320.15 333.20,320.69 333.40,321.68 333.60,322.24 333.80,322.43 334.00,322.78 334.20,323.94 334.40,324.31 334.60,325.00 334.80,324.19 335.00,324.30 335.20,324.03 335.40,324.17 335.60,324.39 335.80,323.85 336.00,324.07 336.20,324.40 336.40,324.33 336.60,324.48 336.80,324.31 337.00,324.96 337.20,323.91 337.40,323.88 337.60,322.97 337.80,323.23 338.00,322.27 338.20,321.62 338.40,320.54 338.60,319.44 338.80,318.92 339.00,319.02 339.20,319.44 339.40,320.40 339.60,321.10 339.80,322.31 340.00,322.19 340.20,322.57 340.40,322.43 340.60,323.02 340.80,323.12 341.00,323.33 341.20,323.21 341.40,323.10 341.60,322.61 341.80,322.47 342.00,322.15 342.20,322.66 342.40,322.99 342.60,323.57 342.80,322.98 343.00,322.48 343.20,322.58 343.40,322.66 343.60,321.71 343.80,320.45 344.00,319.40 344.20,319.03 344.40,318.37 344.60,318.22 344.80,318.78 345.00,319.32 345.20,319.81 345.40,320.30 345.60,320.55 345.80,321.33 346.00,321.86 346.20,322.10 346.40,321.70 346.60,321.45 346.80,321.29 347.00,321.86 347.20,320.72 347.40,320.02 347.60,319.12 347.80,320.19 348.00,321.23 348.20,321.44 348.40,321.25 348.60,320.83 348.80,321.01 349.00,321.48 349.20,320.63 349.40,320.88 349.60,320.19 349.80,320.26 350.00,318.93 350.20,317.51 350.40,316.04 350.60,313.34 350.80,310.20 351.00,307.85 351.20,309.69 351.40,312.54 351.60,315.34 351.80,317.00 352.00,317.98 352.20,318.63 352.40,318.64 352.60,318.72 352.80,317.88 353.00,317.27 353.20,316.19 353.40,315.49 353.60,312.11 353.80,307.71 354.00,300.07 354.20,293.72 354.40,293.88 354.60,300.43 354.80,307.46 355.00,311.48 355.20,313.96 355.40,315.19 355.60,315.79 355.80,316.24 356.00,316.62 356.20,316.18 356.40,314.24 356.60,311.67 356.80,307.29 357.00,301.18 357.20,292.22 357.40,287.01 357.60,291.74 357.80,300.12 358.00,307.24 358.20,311.37 358.40,313.93 358.60,315.66 358.80,316.32 359.00,315.84 359.20,314.30 359.40,310.32 359.60,304.97 359.80,296.18 360.00,286.08 360.20,280.66 360.40,287.04 360.60,298.90 360.80,307.57 361.00,313.71 361.20,317.13 361.40,319.62 361.60,321.29 361.80,322.68 362.00,323.41 362.20,324.32 362.40,324.68 362.60,325.51 362.80,324.81 363.00,325.26 363.20,324.96 363.40,326.34 363.60,326.35 363.80,327.01 364.00,326.85 364.20,326.80 364.40,327.01 364.60,326.67 364.80,326.91 365.00,326.90 365.20,327.19 365.40,326.82 365.60,324.97 365.80,321.74 366.00,317.67 366.20,314.61 366.40,314.81 366.60,319.07 366.80,322.68 367.00,325.03 367.20,326.51 367.40,328.38 367.60,330.29 367.80,331.22 368.00,331.23 368.20,330.82 368.40,330.01 368.60,329.75 368.80,330.29 369.00,330.80 369.20,330.92 369.40,331.26 369.60,331.94 369.80,331.50 370.00,330.64 370.20,329.71 370.40,329.50 370.60,328.09 370.80,327.49 371.00,325.39 371.20,322.42 371.40,314.74 371.60,304.96 371.80,292.25 372.00,286.39 372.20,293.33 372.40,306.26 372.60,316.21 372.80,322.43 373.00,326.60 373.20,328.43 373.40,330.70 373.60,331.93 373.80,334.46 374.00,335.04 374.20,335.00 374.40,335.21 374.60,335.39 374.80,336.14 375.00,335.99 375.20,336.81 375.40,337.93 375.60,337.97 375.80,337.77 376.00,337.35 376.20,337.36 376.40,337.22 376.60,337.18 376.80,337.43 377.00,337.96 377.20,337.44 377.40,337.63 377.60,337.42 377.80,338.42 378.00,338.10 378.20,337.78 378.40,337.25 378.60,336.98 378.80,336.61 379.00,335.94 379.20,335.34 379.40,334.55 379.60,333.99 379.80,333.75 380.00,334.16 380.20,334.62 380.40,335.93 380.60,336.93 380.80,337.87 381.00,337.67 381.20,338.10 381.40,338.30 381.60,338.81 381.80,338.81 382.00,339.00 382.20,339.46 382.40,339.30 382.60,339.23 382.80,339.06 383.00,339.33 383.20,339.77 383.40,340.06 383.60,340.61 383.80,340.79 384.00,340.47 384.20,340.05 384.40,339.70 384.60,340.18 384.80,340.21 385.00,340.11 385.20,339.48 385.40,339.82 385.60,339.86 385.80,339.41 386.00,339.44 386.20,339.85 386.40,340.93 386.60,341.06 386.80,341.15 387.00,341.08 387.20,340.83 387.40,340.47 387.60,339.75 387.80,339.18 388.00,339.57 388.20,340.49 388.40,341.13 388.60,340.83 388.80,340.81 389.00,340.83 389.20,341.07 389.40,340.76 389.60,340.41 389.80,340.11 390.00,340.33 390.20,341.18 390.40,342.02 390.60,341.84 390.80,341.49 391.00,340.92 391.20,341.03 391.40,341.01 391.60,341.31 391.80,340.92 392.00,341.33 392.20,341.01 392.40,341.06 392.60,341.22 392.80,340.99 393.00,341.27 393.20,340.35 393.40,340.98 393.60,340.18 393.80,340.50 394.00,339.66 394.20,340.93 394.40,341.46 394.60,342.20 394.80,341.49 395.00,341.21 395.20,341.61 395.40,341.92 395.60,341.45 395.80,341.23 396.00,340.75 396.20,340.77 396.40,340.31 396.60,340.74 396.80,341.16 397.00,341.13 397.20,340.76 397.40,340.00 397.60,340.00 397.80,340.47 398.00,341.17 398.20,341.40 398.40,340.84 398.60,340.72 398.80,340.33 399.00,341.14 399.20,340.87 399.40,340.98 399.60,340.42 399.80,340.81 400.00,340.85 400.20,341.83 400.40,341.88 400.60,341.55 400.80,340.70 401.00,340.66 401.20,341.23 401.40,341.41 401.60,341.16 401.80,340.46 402.00,339.82 402.20,339.98 402.40,340.24 402.60,340.67 402.80,340.61 403.00,340.23 403.20,339.66 403.40,339.62 403.60,339.99 403.80,340.43 404.00,340.59 404.20,340.67 404.40,340.75 404.60,340.49 404.80,340.05 405.00,340.56 405.20,340.58 405.40,340.91 405.60,340.72 405.80,340.33 406.00,340.27 406.20,339.58 406.40,339.77 406.60,339.74 406.80,340.16 407.00,340.02 407.20,340.29 407.40,340.33 407.60,340.62 407.80,340.64 408.00,340.53 408.20,340.17 408.40,339.49 408.60,339.55 408.80,339.38 409.00,340.03 409.20,339.90 409.40,340.27 409.60,340.16 409.80,340.33 410.00,340.06 410.20,340.13 410.40,340.26 410.60,340.74 410.80,340.95 411.00,340.56 411.20,340.30 411.40,340.50 411.60,340.71 411.80,340.79 412.00,340.54 412.20,340.14 412.40,340.02 412.60,339.86 412.80,340.07 413.00,340.51 413.20,340.50 413.40,340.74 413.60,340.09 413.80,339.96 414.00,339.70 414.20,340.05 414.40,340.17 414.60,340.17 414.80,340.17 415.00,340.60 415.20,340.59 415.40,340.25 415.60,340.00 415.80,340.38 416.00,340.59 416.20,340.51 416.40,339.55 416.60,339.62 416.80,339.30 417.00,340.42 417.20,340.35 417.40,340.87 417.60,340.23 417.80,340.08 418.00,339.44 418.20,339.17 418.40,339.08 418.60,339.50 418.80,339.39 419.00,339.56 419.20,339.55 419.40,340.00 419.60,340.10 419.80,339.89 420.00,339.95 420.20,339.30 420.40,339.59 420.60,339.54 420.80,339.89 421.00,339.41 421.20,339.27 421.40,339.58 421.60,339.35 421.80,339.05 422.00,338.53 422.20,339.05 422.40,339.13 422.60,339.49 422.80,338.96 423.00,339.17 423.20,339.00 423.40,339.09 423.60,339.39 423.80,339.53 424.00,339.46 424.20,339.77 424.40,339.50 424.60,339.44 424.80,338.40 425.00,339.03 425.20,339.37 425.40,339.87 425.60,339.73 425.80,339.70 426.00,339.78 426.20,339.92 426.40,339.94 426.60,339.95 426.80,339.58 427.00,339.54 427.20,339.68 427.40,339.76 427.60,339.79 427.80,338.96 428.00,338.59 428.20,338.34 428.40,338.79 428.60,339.09 428.80,339.29 429.00,339.24 429.20,339.22 429.40,339.26 429.60,339.51 429.80,338.98 430.00,339.13 430.20,339.38 430.40,340.07 430.60,339.71 430.80,339.01 431.00,338.71 431.20,339.12 431.40,339.39 431.60,338.92 431.80,337.80 432.00,337.77 432.20,338.80 432.40,339.19 432.60,338.98 432.80,338.41 433.00,338.84 433.20,339.19 433.40,338.79 433.60,338.73 433.80,338.35 434.00,338.91 434.20,338.96 434.40,339.36 434.60,338.86 434.80,338.49 435.00,338.05 435.20,338.21 435.40,338.28 435.60,338.14 435.80,338.09 436.00,337.86 436.20,338.36 436.40,338.35 436.60,338.40 436.80,338.18 437.00,337.89 437.20,338.22 437.40,338.05 437.60,338.74 437.80,338.70 438.00,338.50 438.20,338.18 438.40,337.91 438.60,338.00 438.80,336.82 439.00,336.36 439.20,335.82 439.40,336.67 439.60,336.64 439.80,337.08 440.00,337.07 440.20,337.26 440.40,337.25 440.60,337.56 440.80,337.92 441.00,338.08 441.20,337.99 441.40,338.09 441.60,338.22 441.80,338.23 442.00,337.89 442.20,337.78 442.40,337.81 442.60,338.48 442.80,338.30 443.00,338.61 443.20,338.12 443.40,338.67 443.60,337.87 443.80,337.90 444.00,337.03 444.20,337.14 444.40,337.08 444.60,337.66 444.80,337.77 445.00,337.88 445.20,337.57 445.40,338.03 445.60,337.79 445.80,338.31 446.00,338.26 446.20,338.08 446.40,337.63 446.60,337.00 446.80,337.36 447.00,337.25 447.20,337.76 447.40,337.51 447.60,337.50 447.80,337.06 448.00,337.20 448.20,337.40 448.40,337.60 448.60,337.66 448.80,337.73 449.00,337.71 449.20,337.51 449.40,337.14 449.60,337.02 449.80,337.07 450.00,337.47 450.20,337.75 450.40,337.65 450.60,337.54 450.80,337.14 451.00,337.43 451.20,336.95 451.40,337.30 451.60,337.05 451.80,337.38 452.00,337.11 452.20,336.87 452.40,336.77 452.60,336.69 452.80,336.93 453.00,336.87 453.20,336.92 453.40,336.62 453.60,335.99 453.80,335.65 454.00,335.17 454.20,335.32 454.40,335.37 454.60,335.65 454.80,335.89 455.00,336.20 455.20,336.31 455.40,336.23 455.60,335.76 455.80,336.37 456.00,336.35 456.20,336.44 456.40,335.70 456.60,335.75 456.80,335.41 457.00,335.12 457.20,334.89 457.40,335.03 457.60,335.12 457.80,335.00 458.00,335.26 458.20,335.51 458.40,336.13 458.60,335.99 458.80,335.92 459.00,335.76 459.20,335.36 459.40,335.33 459.60,334.66 459.80,334.50 460.00,334.29 460.20,334.52 460.40,334.70 460.60,334.87 460.80,335.29 461.00,335.74 461.20,335.73 461.40,335.31 461.60,335.06 461.80,334.97 462.00,334.81 462.20,334.62 462.40,334.35 462.60,333.70 462.80,333.22 463.00,332.79 463.20,332.86 463.40,332.83 463.60,333.33 463.80,333.76 464.00,334.26 464.20,334.24 464.40,334.47 464.60,334.63 464.80,334.85 465.00,334.73 465.20,334.65 465.40,334.67 465.60,334.94 465.80,335.15 466.00,335.38 466.20,335.43 466.40,335.68 466.60,335.71 466.80,335.53 467.00,335.72 467.20,336.17 467.40,336.80 467.60,336.90 467.80,336.62 468.00,336.79 468.20,336.76 468.40,336.79 468.60,336.90 468.80,337.33 469.00,337.68 469.20,337.71 469.40,337.56 469.60,337.97 469.80,338.15 470.00,338.30 470.20,338.08 470.40,338.12 470.60,338.45 470.80,338.50 471.00,338.42 471.20,338.37 471.40,338.53 471.60,338.51 471.80,338.53 472.00,338.58 472.20,338.82 472.40,338.93 472.60,339.08 472.80,339.49 473.00,339.63 473.20,339.79 473.40,339.50 473.60,339.46 473.80,339.28 474.00,339.30 474.20,339.50 474.40,340.03 474.60,340.32 474.80,340.31 475.00,340.10 475.20,340.18 475.40,340.16 475.60,340.13 475.80,340.16 476.00,340.50 476.20,340.58 476.40,340.27 476.60,340.19 476.80,340.27 477.00,340.48 477.20,340.27 477.40,339.79 477.60,339.85 477.80,340.01 478.00,340.67 478.20,340.81 478.40,340.71 478.60,340.58 478.80,340.62 479.00,340.90 479.20,341.04 479.40,341.19 479.60,340.81 479.80,340.82 480.00,340.75 480.20,340.93 480.40,340.95 480.60,340.84 480.80,340.82 481.00,340.60 481.20,340.80 481.40,341.11 481.60,341.52 481.80,341.58 482.00,341.59 482.20,341.26 482.40,341.13 482.60,341.03 482.80,341.55 483.00,341.47 483.20,341.33 483.40,340.86 483.60,341.19 483.80,341.32 484.00,341.62 484.20,341.40 484.40,341.69 484.60,341.34 484.80,341.38 485.00,341.33 485.20,341.56 485.40,341.51 485.60,341.67 485.80,341.50 486.00,341.53 486.20,341.51 486.40,342.03 486.60,342.19 486.80,341.83 487.00,341.37 487.20,341.23 487.40,341.42 487.60,341.85 487.80,342.13 488.00,342.31 488.20,342.01 488.40,341.99 488.60,341.97 488.80,342.18 489.00,342.06 489.20,341.87 489.40,341.92 489.60,342.17 489.80,342.21 490.00,342.09 490.20,342.01 490.40,342.30 490.60,342.52 490.80,342.36 491.00,342.32 491.20,341.85 491.40,341.50 491.60,341.23 491.80,341.48 492.00,341.59 492.20,341.64 492.40,341.61 492.60,341.85 492.80,341.92 493.00,342.07 493.20,342.03 493.40,341.92 493.60,341.83 493.80,342.04 494.00,342.05 494.20,342.18 494.40,342.13 494.60,342.14 494.80,341.92 495.00,341.68 495.20,341.85 495.40,341.88 495.60,342.32 495.80,341.80 496.00,341.60 496.20,341.20 496.40,341.70 496.60,341.83 496.80,341.80 497.00,341.79 497.20,341.78 497.40,341.94 497.60,342.01 497.80,342.24 498.00,341.95 498.20,341.70 498.40,341.62 498.60,341.84 498.80,341.83 499.00,341.86 499.20,341.91 499.40,342.10 499.60,342.15 499.80,342.08 500.00,342.17 500.20,342.06 500.40,342.16 500.60,342.17 500.80,341.89 501.00,341.59 501.20,341.25 501.40,341.64 501.60,341.92 501.80,342.01 502.00,341.72 502.20,341.44 502.40,341.57 502.60,341.73 502.80,342.06 503.00,342.16 503.20,342.21 503.40,342.36 503.60,342.16 503.80,342.35 504.00,342.21 504.20,342.19 504.40,341.98 504.60,342.26 504.80,342.15 505.00,342.03 505.20,341.63 505.40,341.85 505.60,341.96 505.80,342.31 506.00,342.26 506.20,342.35 506.40,341.99 506.60,341.85 506.80,341.72 507.00,341.77 507.20,342.04 507.40,342.27 507.60,342.24 507.80,342.31 508.00,341.95 508.20,342.29 508.40,341.90 508.60,341.98 508.80,341.75 509.00,341.92 509.20,341.83 509.40,341.90 509.60,341.80 509.80,342.12 510.00,341.80 510.20,342.11 510.40,342.09 510.60,342.39 510.80,342.40 511.00,342.24 511.20,342.16 511.40,342.17 511.60,342.05 511.80,342.02 512.00,341.81 512.20,341.94 512.40,341.94 512.60,341.60 512.80,341.63 513.00,341.72 513.20,342.28 513.40,342.40 513.60,342.27 513.80,342.04 514.00,341.78 514.20,341.82 514.40,341.77 514.60,342.08 514.80,342.19 515.00,342.38 515.20,342.16 515.40,342.08 515.60,342.07 515.80,342.01 516.00,342.11 516.20,342.17 516.40,342.20 516.60,342.13 516.80,341.87 517.00,342.21 517.20,342.28 517.40,342.57 517.60,342.30 517.80,342.10 518.00,341.92 518.20,342.17 518.40,342.55 518.60,342.68 518.80,342.47 519.00,342.29 519.20,342.34 519.40,342.19 519.60,342.27 519.80,341.99 520.00,342.18 520.20,342.16 520.40,342.33 520.60,342.31 520.80,342.40 521.00,342.30 521.20,342.23 521.40,341.90 521.60,341.99 521.80,342.16 522.00,342.29 522.20,341.98 522.40,341.93 522.60,342.04 522.80,342.20 523.00,342.10 523.20,342.02 523.40,342.03 523.60,342.11 523.80,342.12 524.00,342.06 524.20,341.62 524.40,341.47 524.60,341.85 524.80,342.44 525.00,342.53 525.20,342.16 525.40,342.20 525.60,342.35 525.80,342.70 526.00,342.76 526.20,342.73 526.40,342.56 526.60,342.17 526.80,342.13 527.00,341.97 527.20,342.24 527.40,342.19 527.60,342.57 527.80,342.37 528.00,342.47 528.20,342.12 528.40,342.30 528.60,342.12 528.80,342.43 529.00,342.38 529.20,342.23 529.40,341.84 529.60,341.80 529.80,342.06 530.00,342.56 530.20,342.40 530.40,342.38 530.60,342.09 530.80,342.25 531.00,342.54 531.20,342.53 531.40,342.26 531.60,342.24 531.80,342.32 532.00,342.34 532.20,342.01 532.40,341.90 532.60,342.14 532.80,342.36 533.00,342.37 533.20,342.28 533.40,342.02 533.60,342.04 533.80,342.12 534.00,342.34 534.20,342.05 534.40,341.91 534.60,341.91 534.80,342.48 535.00,342.74 535.20,342.34 535.40,341.81 535.60,341.76" fill="none" stroke="#f0464a" stroke-width="0.75" stroke-linejoin="round"/>
<path d="M296.40,397.97 296.60,397.53 296.80,397.14 297.00,396.83 297.20,396.38 297.40,395.67 297.60,394.41 297.80,392.55 298.00,389.64 298.20,385.01 298.40,378.30 298.60,371.79 298.80,371.72 299.00,378.19 299.20,384.89 299.40,389.61 299.60,392.47 299.80,394.26 300.00,395.29 300.20,396.16 300.40,396.93 300.60,397.45 300.80,397.58 301.00,397.71 301.20,397.84 301.40,398.14 301.60,398.20 301.80,398.33 302.00,398.33 302.20,398.29 302.40,398.27 302.60,398.17 302.80,398.16 303.00,398.02 303.20,398.08 303.40,398.04 303.60,398.19 303.80,398.16 304.00,398.13 304.20,398.05 304.40,397.97 304.60,397.81 304.80,397.38 305.00,396.91 305.20,396.28 305.40,395.43 305.60,394.15 305.80,392.90 306.00,392.18 306.20,392.81 306.40,393.99 306.60,395.40 306.80,396.32 307.00,397.19 307.20,397.62 307.40,398.00 307.60,397.97 307.80,398.05 308.00,398.21 308.20,398.40 308.40,398.61 308.60,398.55 308.80,398.66 309.00,398.57 309.20,398.64 309.40,398.64 309.60,398.71 309.80,398.60 310.00,398.43 310.20,398.31 310.40,398.24 310.60,398.16 310.80,397.77 311.00,397.41 311.20,396.90 311.40,396.53 311.60,396.44 311.80,396.81 312.00,397.28 312.20,397.64 312.40,397.79 312.60,397.86 312.80,397.94 313.00,397.89 313.20,397.69 313.40,397.32 313.60,396.95 313.80,396.52 314.00,395.92 314.20,394.76 314.40,393.47 314.60,392.11 314.80,391.58 315.00,392.23 315.20,393.48 315.40,394.82 315.60,395.72 315.80,396.55 316.00,397.08 316.20,397.46 316.40,397.46 316.60,397.47 316.80,397.33 317.00,397.31 317.20,397.15 317.40,397.00 317.60,396.53 317.80,395.83 318.00,394.73 318.20,393.24 318.40,391.43 318.60,389.54 318.80,388.81 319.00,389.66 319.20,391.51 319.40,393.29 319.60,394.75 319.80,395.91 320.00,396.70 320.20,397.15 320.40,397.50 320.60,397.64 320.80,397.80 321.00,397.79 321.20,397.97 321.40,398.03 321.60,398.13 321.80,398.00 322.00,397.71 322.20,397.44 322.40,397.19 322.60,396.93 322.80,396.42 323.00,395.60 323.20,394.40 323.40,393.22 323.60,392.51 323.80,393.14 324.00,394.17 324.20,395.49 324.40,396.22 324.60,397.01 324.80,397.53 325.00,397.96 325.20,398.20 325.40,398.33 325.60,398.30 325.80,398.23 326.00,398.23 326.20,398.37 326.40,398.50 326.60,398.68 326.80,398.86 327.00,398.92 327.20,398.71 327.40,398.60 327.60,398.54 327.80,398.51 328.00,398.50 328.20,398.24 328.40,398.18 328.60,397.82 328.80,397.68 329.00,397.12 329.20,396.56 329.40,396.00 329.60,395.98 329.80,396.37 330.00,397.03 330.20,397.45 330.40,397.63 330.60,397.46 330.80,397.35 331.00,397.27 331.20,397.04 331.40,396.72 331.60,396.30 331.80,395.70 332.00,394.63 332.20,393.20 332.40,391.33 332.60,388.81 332.80,386.13 333.00,384.88 333.20,386.11 333.40,388.66 333.60,391.13 333.80,393.03 334.00,394.42 334.20,395.41 334.40,395.94 334.60,396.32 334.80,396.41 335.00,396.35 335.20,396.21 335.40,395.86 335.60,395.36 335.80,394.61 336.00,394.38 336.20,394.85 336.40,395.57 336.60,396.07 336.80,396.39 337.00,396.53 337.20,396.54 337.40,396.43 337.60,396.11 337.80,395.72 338.00,394.92 338.20,393.93 338.40,392.11 338.60,390.01 338.80,387.71 339.00,386.82 339.20,387.64 339.40,389.69 339.60,391.77 339.80,393.34 340.00,394.39 340.20,394.86 340.40,394.99 340.60,394.63 340.80,394.00 341.00,393.12 341.20,392.67 341.40,392.84 341.60,393.59 341.80,394.34 342.00,395.05 342.20,395.60 342.40,395.95 342.60,395.77 342.80,395.51 343.00,394.80 343.20,393.92 343.40,392.43 343.60,390.94 343.80,390.15 344.00,390.93 344.20,392.26 344.40,393.84 344.60,394.90 344.80,395.78 345.00,396.21 345.20,396.39 345.40,396.40 345.60,396.19 345.80,395.89 346.00,395.41 346.20,394.65 346.40,394.08 346.60,394.16 346.80,394.92 347.00,395.70 347.20,396.41 347.40,396.76 347.60,397.02 347.80,397.02 348.00,397.15 348.20,397.21 348.40,397.27 348.60,397.10 348.80,397.02 349.00,396.70 349.20,396.42 349.40,395.75 349.60,395.32 349.80,394.56 350.00,393.43 350.20,391.39 350.40,388.10 350.60,383.17 350.80,376.93 351.00,373.59 351.20,376.80 351.40,382.76 351.60,387.26 351.80,390.03 352.00,391.66 352.20,392.58 352.40,392.98 352.60,392.79 352.80,392.24 353.00,391.08 353.20,389.32 353.40,386.54 353.60,382.08 353.80,374.84 354.00,364.24 354.20,354.24 354.40,354.17 354.60,364.16 354.80,374.31 355.00,381.42 355.20,385.56 355.40,388.02 355.60,389.15 355.80,389.57 356.00,389.16 356.20,387.87 356.40,385.71 356.60,382.11 356.80,376.00 357.00,366.25 357.20,353.63 357.40,346.74 357.60,353.30 357.80,365.55 358.00,375.12 358.20,381.14 358.40,384.43 358.60,385.95 358.80,386.24 359.00,385.52 359.20,383.50 359.40,379.57 359.60,372.53 359.80,361.37 360.00,346.91 360.20,339.16 360.40,347.18 360.60,362.10 360.80,373.99 361.00,381.75 361.20,386.49 361.40,389.46 361.60,391.40 361.80,392.77 362.00,393.75 362.20,394.55 362.40,395.12 362.60,395.60 362.80,396.05 363.00,396.43 363.20,396.63 363.40,396.77 363.60,396.73 363.80,396.74 364.00,396.66 364.20,396.54 364.40,396.38 364.60,396.03 364.80,395.56 365.00,394.83 365.20,393.92 365.40,392.39 365.60,389.84 365.80,385.66 366.00,379.64 366.20,373.91 366.40,373.88 366.60,379.57 366.80,385.55 367.00,389.70 367.20,392.39 367.40,394.00 367.60,395.07 367.80,395.69 368.00,396.22 368.20,396.51 368.40,396.76 368.60,396.88 368.80,396.80 369.00,396.76 369.20,396.55 369.40,396.37 369.60,396.07 369.80,395.73 370.00,395.28 370.20,394.63 370.40,393.58 370.60,392.15 370.80,390.07 371.00,387.00 371.20,382.22 371.40,374.43 371.60,362.51 371.80,347.47 372.00,339.37 372.20,347.72 372.40,362.77 372.60,374.83 372.80,382.40 373.00,387.37 373.20,390.33 373.40,392.43 373.60,393.72 373.80,394.78 374.00,395.61 374.20,396.21 374.40,396.72 374.60,397.15 374.80,397.40 375.00,397.67 375.20,397.83 375.40,398.05 375.60,398.16 375.80,398.25 376.00,398.42 376.20,398.37 376.40,398.51 376.60,398.44 376.80,398.59 377.00,398.51 377.20,398.65 377.40,398.62 377.60,398.67 377.80,398.46 378.00,398.27 378.20,398.13 378.40,398.12 378.60,397.98 378.80,397.52 379.00,397.01 379.20,396.22 379.40,395.37 379.60,394.21 379.80,393.75 380.00,394.21 380.20,395.14 380.40,396.14 380.60,396.89 380.80,397.58 381.00,397.94 381.20,398.32 381.40,398.54 381.60,398.78 381.80,398.72 382.00,398.83 382.20,398.95 382.40,399.18 382.60,399.28 382.80,399.28 383.00,399.26 383.20,399.27 383.40,399.34 383.60,399.37 383.80,399.38 384.00,399.38 384.20,399.40 384.40,399.45 384.60,399.46 384.80,399.44 385.00,399.53 385.20,399.58 385.40,399.59 385.60,399.46 385.80,399.41 386.00,399.44 386.20,399.45 386.40,399.50 386.60,399.53 386.80,399.55 387.00,399.64 387.20,399.65 387.40,399.73 387.60,399.57 387.80,399.54 388.00,399.47 388.20,399.62 388.40,399.73 388.60,399.79 388.80,399.73 389.00,399.71 389.20,399.69 389.40,399.70 389.60,399.74 389.80,399.75 390.00,399.81 390.20,399.76 390.40,399.83 390.60,399.80 390.80,399.86 391.00,399.91 391.20,399.96 391.40,399.82 391.60,399.79 391.80,399.83 392.00,399.88 392.20,399.79 392.40,399.71 392.60,399.83 392.80,399.85 393.00,399.89 393.20,399.84 393.40,399.92 393.60,399.93 393.80,399.95 394.00,399.92 394.20,399.92 394.40,400.03 394.60,400.10 394.80,400.14 395.00,400.00 395.20,399.95 395.40,399.83 395.60,399.95 395.80,400.05 396.00,400.16 396.20,400.16 396.40,400.09 396.60,400.05 396.80,400.08 397.00,400.09 397.20,400.18 397.40,400.21 397.60,400.18 397.80,400.07 398.00,400.08 398.20,400.20 398.40,400.35 398.60,400.34 398.80,400.26 399.00,400.29 399.20,400.26 399.40,400.34 399.60,400.24 399.80,400.13 400.00,400.02 400.20,399.91 400.40,399.88 400.60,399.87 400.80,399.97 401.00,399.97 401.20,399.91 401.40,399.90 401.60,399.82 401.80,399.90 402.00,399.92 402.20,399.95 402.40,399.89 402.60,399.84 402.80,400.01 403.00,400.07 403.20,400.04 403.40,399.97 403.60,399.87 403.80,399.81 404.00,399.83 404.20,399.97 404.40,400.09 404.60,400.06 404.80,400.03 405.00,399.89 405.20,399.81 405.40,399.76 405.60,399.91 405.80,399.99 406.00,400.01 406.20,399.88 406.40,399.87 406.60,399.89 406.80,399.98 407.00,399.96 407.20,400.06 407.40,399.95 407.60,400.01 407.80,399.81 408.00,399.80 408.20,399.78 408.40,399.83 408.60,399.86 408.80,399.81 409.00,399.98 409.20,399.99 409.40,399.96 409.60,399.88 409.80,399.88 410.00,400.04 410.20,399.88 410.40,399.90 410.60,399.81 410.80,399.87 411.00,399.85 411.20,399.70 411.40,399.70 411.60,399.78 411.80,399.84 412.00,399.79 412.20,399.81 412.40,399.87 412.60,399.96 412.80,399.86 413.00,399.76 413.20,399.78 413.40,399.80 413.60,399.82 413.80,399.74 414.00,399.75 414.20,399.82 414.40,399.82 414.60,399.77 414.80,399.65 415.00,399.63 415.20,399.64 415.40,399.72 415.60,399.73 415.80,399.70 416.00,399.67 416.20,399.71 416.40,399.73 416.60,399.72 416.80,399.66 417.00,399.64 417.20,399.67 417.40,399.72 417.60,399.71 417.80,399.68 418.00,399.66 418.20,399.72 418.40,399.81 418.60,399.70 418.80,399.70 419.00,399.58 419.20,399.70 419.40,399.70 419.60,399.83 419.80,399.76 420.00,399.76 420.20,399.50 420.40,399.53 420.60,399.33 420.80,399.43 421.00,399.35 421.20,399.39 421.40,399.43 421.60,399.43 421.80,399.44 422.00,399.39 422.20,399.42 422.40,399.51 422.60,399.53 422.80,399.50 423.00,399.36 423.20,399.42 423.40,399.48 423.60,399.62 423.80,399.54 424.00,399.59 424.20,399.58 424.40,399.75 424.60,399.65 424.80,399.66 425.00,399.62 425.20,399.62 425.40,399.56 425.60,399.43 425.80,399.43 426.00,399.47 426.20,399.51 426.40,399.46 426.60,399.55 426.80,399.49 427.00,399.62 427.20,399.47 427.40,399.55 427.60,399.51 427.80,399.55 428.00,399.55 428.20,399.61 428.40,399.52 428.60,399.39 428.80,399.19 429.00,399.10 429.20,399.20 429.40,399.19 429.60,399.21 429.80,399.19 430.00,399.27 430.20,399.37 430.40,399.19 430.60,399.12 430.80,399.02 431.00,399.17 431.20,399.24 431.40,399.35 431.60,399.42 431.80,399.62 432.00,399.56 432.20,399.52 432.40,399.37 432.60,399.39 432.80,399.28 433.00,399.27 433.20,399.33 433.40,399.41 433.60,399.31 433.80,399.12 434.00,399.02 434.20,399.13 434.40,399.33 434.60,399.32 434.80,399.26 435.00,399.26 435.20,399.40 435.40,399.32 435.60,399.23 435.80,399.14 436.00,399.12 436.20,399.23 436.40,399.12 436.60,399.21 436.80,399.16 437.00,399.29 437.20,399.30 437.40,399.10 437.60,399.07 437.80,399.04 438.00,399.18 438.20,399.09 438.40,399.06 438.60,398.98 438.80,399.14 439.00,399.11 439.20,399.14 439.40,399.04 439.60,399.06 439.80,399.17 440.00,399.26 440.20,399.28 440.40,399.14 440.60,399.01 440.80,398.86 441.00,398.87 441.20,398.90 441.40,398.98 441.60,398.90 441.80,398.94 442.00,398.98 442.20,399.03 442.40,399.03 442.60,398.99 442.80,399.07 443.00,398.95 443.20,398.92 443.40,398.76 443.60,398.81 443.80,398.75 444.00,398.79 444.20,398.73 444.40,398.69 444.60,398.78 444.80,398.82 445.00,398.83 445.20,398.73 445.40,398.66 445.60,398.63 445.80,398.67 446.00,398.67 446.20,398.72 446.40,398.61 446.60,398.58 446.80,398.57 447.00,398.53 447.20,398.47 447.40,398.41 447.60,398.28 447.80,398.23 448.00,398.26 448.20,398.41 448.40,398.40 448.60,398.25 448.80,398.18 449.00,398.08 449.20,398.03 449.40,397.84 449.60,397.72 449.80,397.84 450.00,397.87 450.20,397.78 450.40,397.57 450.60,397.41 450.80,397.57 451.00,397.50 451.20,397.47 451.40,397.34 451.60,397.35 451.80,397.19 452.00,396.95 452.20,396.57 452.40,396.40 452.60,396.10 452.80,395.81 453.00,395.35 453.20,395.11 453.40,394.87 453.60,394.92 453.80,394.98 454.00,395.09 454.20,395.21 454.40,395.32 454.60,395.45 454.80,395.50 455.00,395.46 455.20,395.31 455.40,395.09 455.60,394.80 455.80,394.52 456.00,394.13 456.20,393.70 456.40,393.52 456.60,393.53 456.80,393.75 457.00,394.09 457.20,394.38 457.40,394.62 457.60,394.82 457.80,394.95 458.00,395.00 458.20,394.82 458.40,394.45 458.60,393.92 458.80,393.44 459.00,392.89 459.20,392.60 459.40,392.58 459.60,392.91 459.80,393.42 460.00,393.72 460.20,394.27 460.40,394.46 460.60,394.67 460.80,394.43 461.00,394.33 461.20,394.04 461.40,393.67 461.60,393.09 461.80,392.29 462.00,391.42 462.20,390.29 462.40,389.13 462.60,387.97 462.80,387.23 463.00,386.94 463.20,387.24 463.40,388.07 463.60,389.11 463.80,390.24 464.00,391.10 464.20,392.01 464.40,392.68 464.60,393.16 464.80,393.39 465.00,393.58 465.20,393.66 465.40,393.68 465.60,393.61 465.80,393.69 466.00,393.66 466.20,393.82 466.40,394.03 466.60,394.48 466.80,394.91 467.00,395.29 467.20,395.68 467.40,395.86 467.60,396.08 467.80,396.21 468.00,396.43 468.20,396.48 468.40,396.49 468.60,396.44 468.80,396.47 469.00,396.44 469.20,396.49 469.40,396.59 469.60,396.79 469.80,396.83 470.00,396.93 470.20,396.98 470.40,397.20 470.60,397.31 470.80,397.48 471.00,397.66 471.20,397.85 471.40,397.97 471.60,398.15 471.80,398.29 472.00,398.42 472.20,398.45 472.40,398.53 472.60,398.59 472.80,398.70 473.00,398.78 473.20,398.82 473.40,398.92 473.60,398.97 473.80,399.02 474.00,399.01 474.20,399.04 474.40,399.19 474.60,399.17 474.80,399.23 475.00,399.16 475.20,399.19 475.40,399.26 475.60,399.36 475.80,399.57 476.00,399.56 476.20,399.63 476.40,399.50 476.60,399.67 476.80,399.69 477.00,399.71 477.20,399.66 477.40,399.66 477.60,399.91 477.80,399.99 478.00,400.00 478.20,399.94 478.40,399.93 478.60,399.99 478.80,399.95 479.00,399.94 479.20,399.92 479.40,399.99 479.60,400.00 479.80,400.08 480.00,400.06 480.20,400.06 480.40,400.18 480.60,400.23 480.80,400.31 481.00,400.36 481.20,400.35 481.40,400.27 481.60,400.02 481.80,399.94 482.00,400.02 482.20,400.05 482.40,400.01 482.60,399.98 482.80,400.06 483.00,400.29 483.20,400.20 483.40,400.27 483.60,400.04 483.80,400.20 484.00,400.16 484.20,400.25 484.40,400.25 484.60,400.25 484.80,400.34 485.00,400.27 485.20,400.33 485.40,400.34 485.60,400.29 485.80,400.17 486.00,400.08 486.20,400.19 486.40,400.28 486.60,400.35 486.80,400.29 487.00,400.22 487.20,400.23 487.40,400.29 487.60,400.38 487.80,400.46 488.00,400.51 488.20,400.45 488.40,400.50 488.60,400.49 488.80,400.53 489.00,400.41 489.20,400.35 489.40,400.31 489.60,400.25 489.80,400.22 490.00,400.23 490.20,400.10 490.40,400.14 490.60,400.05 490.80,400.24 491.00,400.19 491.20,400.26 491.40,400.29 491.60,400.26 491.80,400.25 492.00,400.22 492.20,400.28 492.40,400.30 492.60,400.24 492.80,400.19 493.00,400.25 493.20,400.32 493.40,400.41 493.60,400.39 493.80,400.31 494.00,400.31 494.20,400.47 494.40,400.62 494.60,400.52 494.80,400.41 495.00,400.31 495.20,400.37 495.40,400.31 495.60,400.27 495.80,400.19 496.00,400.23 496.20,400.22 496.40,400.28 496.60,400.23 496.80,400.30 497.00,400.31 497.20,400.32 497.40,400.29 497.60,400.34 497.80,400.37 498.00,400.48 498.20,400.50 498.40,400.45 498.60,400.40 498.80,400.42 499.00,400.42 499.20,400.36 499.40,400.17 499.60,400.29 499.80,400.34 500.00,400.55 500.20,400.37 500.40,400.23 500.60,400.17 500.80,400.21 501.00,400.36 501.20,400.30 501.40,400.40 501.60,400.37 501.80,400.41 502.00,400.39 502.20,400.38 502.40,400.37 502.60,400.42 502.80,400.44 503.00,400.48 503.20,400.44 503.40,400.45 503.60,400.47 503.80,400.55 504.00,400.61 504.20,400.50 504.40,400.26 504.60,400.14 504.80,400.09 505.00,400.06 505.20,400.05 505.40,400.14 505.60,400.31 505.80,400.40 506.00,400.58 506.20,400.53 506.40,400.47 506.60,400.36 506.80,400.46 507.00,400.49 507.20,400.42 507.40,400.20 507.60,400.26 507.80,400.31 508.00,400.56 508.20,400.62 508.40,400.75 508.60,400.68 508.80,400.63 509.00,400.44 509.20,400.44 509.40,400.36 509.60,400.51 509.80,400.45 510.00,400.46 510.20,400.35 510.40,400.49 510.60,400.51 510.80,400.50 511.00,400.37 511.20,400.29 511.40,400.42 511.60,400.52 511.80,400.61 512.00,400.55 512.20,400.40 512.40,400.48 512.60,400.46 512.80,400.67 513.00,400.54 513.20,400.58 513.40,400.51 513.60,400.59 513.80,400.56 514.00,400.57 514.20,400.55 514.40,400.56 514.60,400.43 514.80,400.49 515.00,400.49 515.20,400.58 515.40,400.50 515.60,400.52 515.80,400.47 516.00,400.63 516.20,400.72 516.40,400.78 516.60,400.65 516.80,400.58 517.00,400.49 517.20,400.51 517.40,400.46 517.60,400.49 517.80,400.42 518.00,400.38 518.20,400.44 518.40,400.48 518.60,400.48 518.80,400.47 519.00,400.48 519.20,400.52 519.40,400.59 519.60,400.56 519.80,400.49 520.00,400.41 520.20,400.37 520.40,400.50 520.60,400.53 520.80,400.57 521.00,400.55 521.20,400.49 521.40,400.49 521.60,400.35 521.80,400.26 522.00,400.26 522.20,400.47 522.40,400.52 522.60,400.54 522.80,400.40 523.00,400.50 523.20,400.46 523.40,400.49 523.60,400.49 523.80,400.51 524.00,400.51 524.20,400.47 524.40,400.53 524.60,400.58 524.80,400.64 525.00,400.63 525.20,400.54 525.40,400.47 525.60,400.48 525.80,400.54 526.00,400.62 526.20,400.51 526.40,400.46 526.60,400.36 526.80,400.45 527.00,400.47 527.20,400.47 527.40,400.47 527.60,400.49 527.80,400.48 528.00,400.48 528.20,400.50 528.40,400.59 528.60,400.60 528.80,400.57 529.00,400.53 529.20,400.49 529.40,400.57 529.60,400.58 529.80,400.65 530.00,400.58 530.20,400.58 530.40,400.60 530.60,400.55 530.80,400.48 531.00,400.45 531.20,400.57 531.40,400.70 531.60,400.71 531.80,400.73 532.00,400.65 532.20,400.60 532.40,400.57 532.60,400.53 532.80,400.46 533.00,400.40 533.20,400.52 533.40,400.64 533.60,400.60 533.80,400.51 534.00,400.44 534.20,400.52 534.40,400.56 534.60,400.60 534.80,400.54 535.00,400.59 535.20,400.65 535.40,400.65 535.60,400.58" fill="none" stroke="#404040" stroke-width="0.68" stroke-linejoin="round"/>
<rect x="296.3" y="220.6" width="240.2" height="181.9" fill="none" stroke="#5fbcbc" stroke-width="0.9"/>
<line x1="313.32" y1="402.5" x2="313.32" y2="403.9" stroke="#5fbcbc" stroke-width="0.7" opacity="0.8"/>
<line x1="330.35" y1="402.5" x2="330.35" y2="404.7" stroke="#5fbcbc" stroke-width="0.7" opacity="0.8"/>
<line x1="347.37" y1="402.5" x2="347.37" y2="403.9" stroke="#5fbcbc" stroke-width="0.7" opacity="0.8"/>
<line x1="364.39" y1="402.5" x2="364.39" y2="404.7" stroke="#5fbcbc" stroke-width="0.7" opacity="0.8"/>
<line x1="381.41" y1="402.5" x2="381.41" y2="403.9" stroke="#5fbcbc" stroke-width="0.7" opacity="0.8"/>
<line x1="398.44" y1="402.5" x2="398.44" y2="404.7" stroke="#5fbcbc" stroke-width="0.7" opacity="0.8"/>
<line x1="415.46" y1="402.5" x2="415.46" y2="403.9" stroke="#5fbcbc" stroke-width="0.7" opacity="0.8"/>
<line x1="432.48" y1="402.5" x2="432.48" y2="404.7" stroke="#5fbcbc" stroke-width="0.7" opacity="0.8"/>
<line x1="449.50" y1="402.5" x2="449.50" y2="403.9" stroke="#5fbcbc" stroke-width="0.7" opacity="0.8"/>
<line x1="466.52" y1="402.5" x2="466.52" y2="404.7" stroke="#5fbcbc" stroke-width="0.7" opacity="0.8"/>
<line x1="483.55" y1="402.5" x2="483.55" y2="403.9" stroke="#5fbcbc" stroke-width="0.7" opacity="0.8"/>
<line x1="500.57" y1="402.5" x2="500.57" y2="404.7" stroke="#5fbcbc" stroke-width="0.7" opacity="0.8"/>
<line x1="517.59" y1="402.5" x2="517.59" y2="403.9" stroke="#5fbcbc" stroke-width="0.7" opacity="0.8"/>
<line x1="534.62" y1="402.5" x2="534.62" y2="404.7" stroke="#5fbcbc" stroke-width="0.7" opacity="0.8"/>
<text class="tk" x="329.4" y="414.7" text-anchor="middle" textLength="17.2" lengthAdjust="spacingAndGlyphs">1000</text>
<text class="tk" x="363.5" y="414.7" text-anchor="middle" textLength="17.2" lengthAdjust="spacingAndGlyphs">1500</text>
<text class="tk" x="397.5" y="414.7" text-anchor="middle" textLength="17.2" lengthAdjust="spacingAndGlyphs">2000</text>
<text class="tk" x="431.6" y="414.7" text-anchor="middle" textLength="17.2" lengthAdjust="spacingAndGlyphs">2500</text>
<text class="tk" x="465.6" y="414.7" text-anchor="middle" textLength="17.2" lengthAdjust="spacingAndGlyphs">3000</text>
<text class="tk" x="499.7" y="414.7" text-anchor="middle" textLength="17.2" lengthAdjust="spacingAndGlyphs">3500</text>
<text class="tk" x="533.7" y="414.7" text-anchor="middle" textLength="17.2" lengthAdjust="spacingAndGlyphs">4000</text>
<text class="ax" x="423.2" y="423.8" text-anchor="middle" textLength="71" lengthAdjust="spacingAndGlyphs">Raman shift (cm<tspan font-size="4.4" dy="-2.4">-1</tspan><tspan dy="2.4">)</tspan></text>
<text class="ax" transform="translate(289.6,315.0) rotate(-90)" text-anchor="middle" textLength="61" lengthAdjust="spacingAndGlyphs">Raman intensity</text>
<text class="ar" x="500.3" y="273.4" textLength="26.6" lengthAdjust="spacingAndGlyphs">Area 1</text>
<text class="ar" x="498.4" y="338.1" textLength="26.6" lengthAdjust="spacingAndGlyphs">Area 2</text>
<text class="ar" x="501.5" y="393.4" textLength="9.9" lengthAdjust="spacingAndGlyphs" style="font-size:8.4px">LV</text><text class="ar" x="512.0" y="395.1" textLength="9.4" lengthAdjust="spacingAndGlyphs" style="font-size:5px">0.5</text>
<text class="lab" x="4.8" y="18.4" textLength="19" lengthAdjust="spacingAndGlyphs">(a)</text>
<text class="lab" x="263.6" y="19.3" textLength="19.4" lengthAdjust="spacingAndGlyphs">(b)</text>
<text class="lab" x="5.5" y="226.3" textLength="17.8" lengthAdjust="spacingAndGlyphs">(c)</text>
<text class="lab" x="261.3" y="224.1" textLength="19.8" lengthAdjust="spacingAndGlyphs">(d)</text>
</svg></body></html>
